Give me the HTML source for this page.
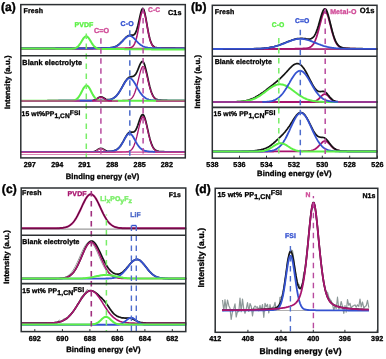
<!DOCTYPE html>
<html><head><meta charset="utf-8"><style>
html,body{margin:0;padding:0;background:#fff;}
body{width:386px;height:359px;overflow:hidden;}
svg{display:block;font-family:"Liberation Sans", sans-serif;will-change:transform;}
</style></head><body>
<svg width="386" height="359" viewBox="0 0 386 359">
<polyline points="20.8,48.7 21.8,48.7 22.8,48.7 23.8,48.7 24.8,48.7 25.8,48.7 26.8,48.7 27.8,48.7 28.8,48.7 29.8,48.7 30.8,48.7 31.8,48.7 32.8,48.7 33.8,48.7 34.8,48.7 35.8,48.7 36.8,48.7 37.8,48.7 38.8,48.7 39.8,48.7 40.8,48.7 41.8,48.7 42.8,48.7 43.8,48.7 44.8,48.7 45.8,48.7 46.8,48.7 47.8,48.7 48.8,48.7 49.8,48.7 50.8,48.7 51.8,48.7 52.8,48.7 53.8,48.7 54.8,48.7 55.8,48.7 56.8,48.7 57.8,48.7 58.8,48.7 59.8,48.7 60.8,48.7 61.8,48.7 62.8,48.7 63.8,48.7 64.8,48.7 65.8,48.7 66.8,48.7 67.8,48.7 68.8,48.7 69.8,48.7 70.8,48.7 71.8,48.7 72.8,48.7 73.8,48.7 74.8,48.7 75.8,48.7 76.8,48.7 77.8,48.7 78.8,48.7 79.8,48.7 80.8,48.7 81.8,48.7 82.8,48.7 83.8,48.7 84.8,48.7 85.8,48.7 86.8,48.7 87.8,48.7 88.8,48.7 89.8,48.7 90.8,48.7 91.8,48.7 92.8,48.7 93.8,48.7 94.8,48.7 95.8,48.7 96.8,48.7 97.8,48.7 98.8,48.7 99.8,48.7 100.8,48.7 101.8,48.7 102.8,48.7 103.8,48.7 104.8,48.7 105.8,48.7 106.8,48.7 107.8,48.7 108.8,48.7 109.8,48.7 110.8,48.7 111.8,48.7 112.8,48.7 113.8,48.7 114.8,48.7 115.8,48.7 116.8,48.7 117.8,48.7 118.8,48.7 119.8,48.7 120.8,48.7 121.8,48.7 122.8,48.7 123.8,48.7 124.8,48.7 125.8,48.7 126.8,48.7 127.8,48.7 128.8,48.7 129.8,48.7 130.8,48.7 131.8,48.7 132.8,48.7 133.8,48.7 134.8,48.7 135.8,48.7 136.8,48.7 137.8,48.7 138.8,48.7 139.8,48.7 140.8,48.7 141.8,48.7 142.8,48.7 143.8,48.7 144.8,48.7 145.8,48.7 146.8,48.7 147.8,48.7 148.8,48.7 149.8,48.7 150.8,48.7 151.8,48.7 152.8,48.7 153.8,48.7 154.8,48.7 155.8,48.7 156.8,48.7 157.8,48.7 158.8,48.7 159.8,48.7 160.8,48.7 161.8,48.7 162.8,48.7 163.8,48.7 164.8,48.7 165.8,48.7 166.8,48.7 167.8,48.7 168.8,48.7 169.8,48.7 170.8,48.7 171.8,48.7 172.8,48.7 173.8,48.7 174.8,48.7 175.8,48.7 176.8,48.7 177.8,48.7 178.8,48.7 179.8,48.7 180.8,48.7 181.8,48.7 182.8,48.7 183.8,48.7 184.8,48.7" fill="none" stroke="#a8146e" stroke-width="1.8" stroke-linejoin="round" />
<polyline points="20.8,48.4 21.8,48.4 22.8,48.4 23.8,48.4 24.8,48.4 25.8,48.4 26.8,48.4 27.8,48.4 28.8,48.4 29.8,48.4 30.8,48.4 31.8,48.4 32.8,48.4 33.8,48.4 34.8,48.4 35.8,48.4 36.8,48.4 37.8,48.4 38.8,48.4 39.8,48.4 40.8,48.4 41.8,48.4 42.8,48.4 43.8,48.4 44.8,48.4 45.8,48.4 46.8,48.4 47.8,48.4 48.8,48.4 49.8,48.4 50.8,48.4 51.8,48.4 52.8,48.4 53.8,48.4 54.8,48.4 55.8,48.4 56.8,48.4 57.8,48.4 58.8,48.4 59.8,48.4 60.8,48.4 61.8,48.4 62.8,48.4 63.8,48.3 64.8,48.3 65.8,48.3 66.8,48.3 67.8,48.3 68.8,48.3 69.8,48.3 70.8,48.3 71.8,48.3 72.8,48.3 73.8,48.3 74.8,48.3 75.8,48.3 76.8,48.3 77.8,48.3 78.8,48.3 79.8,48.3 80.8,48.3 81.8,48.3 82.8,48.3 83.8,48.3 84.8,48.3 85.8,48.3 86.8,48.3 87.8,48.3 88.8,48.3 89.8,48.3 90.8,48.3 91.8,48.3 92.8,48.3 93.8,48.2 94.8,48.2 95.8,48.2 96.8,48.2 97.8,48.2 98.8,48.2 99.8,48.2 100.8,48.2 101.8,48.2 102.8,48.1 103.8,48.1 104.8,48.1 105.8,48.1 106.8,48.0 107.8,48.0 108.8,47.9 109.8,47.8 110.8,47.7 111.8,47.6 112.8,47.4 113.8,47.1 114.8,46.8 115.8,46.4 116.8,45.9 117.8,45.2 118.8,44.5 119.8,43.7 120.8,42.7 121.8,41.7 122.8,40.6 123.8,39.5 124.8,38.5 125.8,37.5 126.8,36.6 127.8,35.9 128.8,35.5 129.8,35.2 130.8,35.2 131.8,35.2 132.8,35.2 133.8,34.9 134.8,34.0 135.8,32.3 136.8,29.6 137.8,26.0 138.8,21.6 139.8,16.9 140.8,12.6 141.8,9.6 142.8,8.4 143.8,9.6 144.8,13.0 145.8,17.9 146.8,23.6 147.8,29.3 148.8,34.4 149.8,38.7 150.8,41.9 151.8,44.2 152.8,45.7 153.8,46.6 154.8,47.2 155.8,47.5 156.8,47.7 157.8,47.8 158.8,47.9 159.8,48.0 160.8,48.0 161.8,48.0 162.8,48.1 163.8,48.1 164.8,48.1 165.8,48.1 166.8,48.1 167.8,48.2 168.8,48.2 169.8,48.2 170.8,48.2 171.8,48.2 172.8,48.2 173.8,48.2 174.8,48.2 175.8,48.3 176.8,48.3 177.8,48.3 178.8,48.3 179.8,48.3 180.8,48.3 181.8,48.3 182.8,48.3 183.8,48.3 184.8,48.3" fill="none" stroke="#141414" stroke-width="1.7" stroke-linejoin="round" />
<polyline points="20.8,48.4 21.8,48.4 22.8,48.4 23.8,48.4 24.8,48.4 25.8,48.4 26.8,48.4 27.8,48.4 28.8,48.4 29.8,48.4 30.8,48.4 31.8,48.4 32.8,48.4 33.8,48.4 34.8,48.4 35.8,48.4 36.8,48.4 37.8,48.4 38.8,48.4 39.8,48.4 40.8,48.4 41.8,48.4 42.8,48.4 43.8,48.4 44.8,48.4 45.8,48.4 46.8,48.4 47.8,48.4 48.8,48.4 49.8,48.4 50.8,48.4 51.8,48.4 52.8,48.4 53.8,48.4 54.8,48.4 55.8,48.4 56.8,48.4 57.8,48.4 58.8,48.4 59.8,48.4 60.8,48.4 61.8,48.4 62.8,48.4 63.8,48.4 64.8,48.4 65.8,48.4 66.8,48.4 67.8,48.4 68.8,48.4 69.8,48.4 70.8,48.4 71.8,48.4 72.8,48.4 73.8,48.4 74.8,48.4 75.8,48.4 76.8,48.4 77.8,48.4 78.8,48.4 79.8,48.4 80.8,48.4 81.8,48.4 82.8,48.4 83.8,48.4 84.8,48.4 85.8,48.4 86.8,48.4 87.8,48.4 88.8,48.4 89.8,48.4 90.8,48.4 91.8,48.4 92.8,48.4 93.8,48.4 94.8,48.4 95.8,48.4 96.8,48.4 97.8,48.4 98.8,48.4 99.8,48.4 100.8,48.4 101.8,48.4 102.8,48.3 103.8,48.3 104.8,48.3 105.8,48.3 106.8,48.3 107.8,48.3 108.8,48.3 109.8,48.3 110.8,48.3 111.8,48.3 112.8,48.3 113.8,48.3 114.8,48.3 115.8,48.3 116.8,48.3 117.8,48.3 118.8,48.3 119.8,48.3 120.8,48.2 121.8,48.2 122.8,48.2 123.8,48.2 124.8,48.2 125.8,48.1 126.8,48.1 127.8,48.0 128.8,48.0 129.8,47.8 130.8,47.6 131.8,47.2 132.8,46.4 133.8,45.2 134.8,43.3 135.8,40.5 136.8,36.8 137.8,32.1 138.8,26.7 139.8,21.1 140.8,16.1 141.8,12.3 142.8,10.6 143.8,11.4 144.8,14.4 145.8,19.0 146.8,24.4 147.8,30.0 148.8,35.0 149.8,39.2 150.8,42.3 151.8,44.5 152.8,46.0 153.8,46.9 154.8,47.4 155.8,47.7 156.8,47.9 157.8,48.0 158.8,48.1 159.8,48.1 160.8,48.2 161.8,48.2 162.8,48.2 163.8,48.2 164.8,48.2 165.8,48.2 166.8,48.3 167.8,48.3 168.8,48.3 169.8,48.3 170.8,48.3 171.8,48.3 172.8,48.3 173.8,48.3 174.8,48.3 175.8,48.3 176.8,48.3 177.8,48.3 178.8,48.3 179.8,48.3 180.8,48.3 181.8,48.3 182.8,48.3 183.8,48.4 184.8,48.4" fill="none" stroke="#a8146e" stroke-width="1.5" stroke-linejoin="round" />
<polyline points="20.8,48.4 21.8,48.4 22.8,48.4 23.8,48.4 24.8,48.4 25.8,48.4 26.8,48.4 27.8,48.4 28.8,48.4 29.8,48.4 30.8,48.4 31.8,48.4 32.8,48.4 33.8,48.4 34.8,48.4 35.8,48.4 36.8,48.4 37.8,48.4 38.8,48.4 39.8,48.4 40.8,48.4 41.8,48.4 42.8,48.4 43.8,48.4 44.8,48.4 45.8,48.4 46.8,48.4 47.8,48.4 48.8,48.4 49.8,48.4 50.8,48.4 51.8,48.4 52.8,48.4 53.8,48.4 54.8,48.4 55.8,48.4 56.8,48.4 57.8,48.4 58.8,48.4 59.8,48.4 60.8,48.4 61.8,48.4 62.8,48.4 63.8,48.4 64.8,48.4 65.8,48.4 66.8,48.4 67.8,48.4 68.8,48.4 69.8,48.4 70.8,48.4 71.8,48.4 72.8,48.4 73.8,48.3 74.8,48.3 75.8,48.3 76.8,48.3 77.8,48.3 78.8,48.3 79.8,48.3 80.8,48.3 81.8,48.3 82.8,48.3 83.8,48.3 84.8,48.3 85.8,48.3 86.8,48.3 87.8,48.3 88.8,48.3 89.8,48.3 90.8,48.3 91.8,48.3 92.8,48.3 93.8,48.3 94.8,48.3 95.8,48.3 96.8,48.3 97.8,48.2 98.8,48.2 99.8,48.2 100.8,48.2 101.8,48.2 102.8,48.2 103.8,48.2 104.8,48.1 105.8,48.1 106.8,48.1 107.8,48.0 108.8,48.0 109.8,47.9 110.8,47.8 111.8,47.6 112.8,47.5 113.8,47.2 114.8,46.9 115.8,46.5 116.8,46.0 117.8,45.4 118.8,44.7 119.8,43.8 120.8,42.9 121.8,41.9 122.8,40.8 123.8,39.7 124.8,38.7 125.8,37.7 126.8,36.9 127.8,36.3 128.8,35.9 129.8,35.8 130.8,36.0 131.8,36.5 132.8,37.2 133.8,38.1 134.8,39.1 135.8,40.2 136.8,41.3 137.8,42.3 138.8,43.3 139.8,44.2 140.8,45.0 141.8,45.6 142.8,46.2 143.8,46.7 144.8,47.0 145.8,47.3 146.8,47.5 147.8,47.7 148.8,47.8 149.8,47.9 150.8,48.0 151.8,48.1 152.8,48.1 153.8,48.1 154.8,48.2 155.8,48.2 156.8,48.2 157.8,48.2 158.8,48.2 159.8,48.2 160.8,48.2 161.8,48.3 162.8,48.3 163.8,48.3 164.8,48.3 165.8,48.3 166.8,48.3 167.8,48.3 168.8,48.3 169.8,48.3 170.8,48.3 171.8,48.3 172.8,48.3 173.8,48.3 174.8,48.3 175.8,48.3 176.8,48.3 177.8,48.3 178.8,48.3 179.8,48.3 180.8,48.3 181.8,48.3 182.8,48.3 183.8,48.3 184.8,48.3" fill="none" stroke="#3552d0" stroke-width="1.8" stroke-linejoin="round" />
<polyline points="20.8,48.4 21.8,48.4 22.8,48.4 23.8,48.4 24.8,48.4 25.8,48.4 26.8,48.4 27.8,48.5 28.8,48.5 29.8,48.5 30.8,48.5 31.8,48.5 32.8,48.5 33.8,48.5 34.8,48.5 35.8,48.5 36.8,48.5 37.8,48.5 38.8,48.5 39.8,48.5 40.8,48.5 41.8,48.6 42.8,48.6 43.8,48.6 44.8,48.6 45.8,48.6 46.8,48.6 47.8,48.6 48.8,48.6 49.8,48.6 50.8,48.6 51.8,48.6 52.8,48.6 53.8,48.6 54.8,48.6 55.8,48.7 56.8,48.7 57.8,48.7 58.8,48.7 59.8,48.7 60.8,48.7 61.8,48.7 62.8,48.7 63.8,48.7 64.8,48.7 65.8,48.7 66.8,48.7 67.8,48.7 68.8,48.7 69.8,48.7 70.8,48.7 71.8,48.7 72.8,48.6 73.8,48.5 74.8,48.3 75.8,47.9 76.8,47.4 77.8,46.6 78.8,45.6 79.8,44.2 80.8,42.7 81.8,41.0 82.8,39.4 83.8,37.9 84.8,36.9 85.8,36.3 86.8,36.4 87.8,37.1 88.8,38.2 89.8,39.8 90.8,41.4 91.8,43.1 92.8,44.6 93.8,45.9 94.8,46.9 95.8,47.7 96.8,48.2 97.8,48.5 98.8,48.7 99.8,48.8 100.8,48.9 101.8,49.0 102.8,49.0 103.8,49.0 104.8,49.0 105.8,49.0 106.8,49.0 107.8,49.0 108.8,49.0 109.8,49.0 110.8,49.1 111.8,49.1 112.8,49.1 113.8,49.1 114.8,49.1 115.8,49.1 116.8,49.1 117.8,49.1 118.8,49.1 119.8,49.1 120.8,49.1 121.8,49.1 122.8,49.1 123.8,49.1 124.8,49.2 125.8,49.2 126.8,49.2 127.8,49.2 128.8,49.2 129.8,49.2 130.8,49.2 131.8,49.2 132.8,49.2 133.8,49.2 134.8,49.2 135.8,49.2 136.8,49.2 137.8,49.3 138.8,49.3 139.8,49.3 140.8,49.3 141.8,49.3 142.8,49.3 143.8,49.3 144.8,49.3 145.8,49.3 146.8,49.3 147.8,49.3 148.8,49.3 149.8,49.3 150.8,49.3 151.8,49.4 152.8,49.4 153.8,49.4 154.8,49.4 155.8,49.4 156.8,49.4 157.8,49.4 158.8,49.4 159.8,49.4 160.8,49.4 161.8,49.4 162.8,49.4 163.8,49.4 164.8,49.4 165.8,49.5 166.8,49.5 167.8,49.5 168.8,49.5 169.8,49.5 170.8,49.5 171.8,49.5 172.8,49.5 173.8,49.5 174.8,49.5 175.8,49.5 176.8,49.5 177.8,49.5 178.8,49.5 179.8,49.6 180.8,49.6 181.8,49.6 182.8,49.6 183.8,49.6 184.8,49.6" fill="none" stroke="#5cf046" stroke-width="2.0" stroke-linejoin="round" />
<polyline points="20.8,100.8 21.8,100.8 22.8,100.8 23.8,100.8 24.8,100.8 25.8,100.8 26.8,100.8 27.8,100.8 28.8,100.8 29.8,100.8 30.8,100.8 31.8,100.8 32.8,100.8 33.8,100.8 34.8,100.8 35.8,100.8 36.8,100.8 37.8,100.8 38.8,100.8 39.8,100.8 40.8,100.8 41.8,100.8 42.8,100.8 43.8,100.8 44.8,100.8 45.8,100.8 46.8,100.8 47.8,100.7 48.8,100.7 49.8,100.7 50.8,100.7 51.8,100.7 52.8,100.7 53.8,100.7 54.8,100.7 55.8,100.7 56.8,100.7 57.8,100.7 58.8,100.7 59.8,100.7 60.8,100.7 61.8,100.7 62.8,100.7 63.8,100.7 64.8,100.7 65.8,100.7 66.8,100.7 67.8,100.7 68.8,100.7 69.8,100.7 70.8,100.7 71.8,100.7 72.8,100.7 73.8,100.7 74.8,100.7 75.8,100.7 76.8,100.7 77.8,100.7 78.8,100.7 79.8,100.7 80.8,100.7 81.8,100.7 82.8,100.7 83.8,100.7 84.8,100.6 85.8,100.6 86.8,100.6 87.8,100.6 88.8,100.6 89.8,100.6 90.8,100.6 91.8,100.5 92.8,100.4 93.8,100.2 94.8,99.9 95.8,99.5 96.8,98.9 97.8,98.2 98.8,97.5 99.8,97.0 100.8,96.8 101.8,97.0 102.8,97.4 103.8,98.0 104.8,98.6 105.8,99.2 106.8,99.5 107.8,99.7 108.8,99.7 109.8,99.5 110.8,99.3 111.8,99.0 112.8,98.5 113.8,97.9 114.8,97.2 115.8,96.3 116.8,95.3 117.8,94.1 118.8,92.7 119.8,91.1 120.8,89.4 121.8,87.7 122.8,85.8 123.8,84.0 124.8,82.3 125.8,80.7 126.8,79.4 127.8,78.3 128.8,77.5 129.8,77.0 130.8,76.8 131.8,76.6 132.8,76.4 133.8,76.0 134.8,75.3 135.8,74.0 136.8,72.2 137.8,69.9 138.8,67.4 139.8,64.9 140.8,62.9 141.8,61.6 142.8,61.5 143.8,62.8 144.8,65.4 145.8,69.1 146.8,73.4 147.8,78.0 148.8,82.6 149.8,86.7 150.8,90.2 151.8,93.1 152.8,95.4 153.8,97.0 154.8,98.1 155.8,98.9 156.8,99.4 157.8,99.8 158.8,100.0 159.8,100.1 160.8,100.2 161.8,100.3 162.8,100.3 163.8,100.4 164.8,100.4 165.8,100.4 166.8,100.4 167.8,100.5 168.8,100.5 169.8,100.5 170.8,100.5 171.8,100.5 172.8,100.5 173.8,100.6 174.8,100.6 175.8,100.6 176.8,100.6 177.8,100.6 178.8,100.6 179.8,100.6 180.8,100.6 181.8,100.6 182.8,100.6 183.8,100.6 184.8,100.7" fill="none" stroke="#141414" stroke-width="1.7" stroke-linejoin="round" />
<polyline points="20.8,100.8 21.8,100.8 22.8,100.8 23.8,100.8 24.8,100.8 25.8,100.8 26.8,100.8 27.8,100.8 28.8,100.8 29.8,100.8 30.8,100.8 31.8,100.8 32.8,100.8 33.8,100.8 34.8,100.8 35.8,100.8 36.8,100.8 37.8,100.8 38.8,100.8 39.8,100.8 40.8,100.8 41.8,100.8 42.8,100.8 43.8,100.8 44.8,100.8 45.8,100.8 46.8,100.8 47.8,100.8 48.8,100.8 49.8,100.8 50.8,100.8 51.8,100.8 52.8,100.8 53.8,100.8 54.8,100.8 55.8,100.8 56.8,100.8 57.8,100.8 58.8,100.8 59.8,100.8 60.8,100.8 61.8,100.8 62.8,100.8 63.8,100.8 64.8,100.8 65.8,100.8 66.8,100.8 67.8,100.8 68.8,100.8 69.8,100.8 70.8,100.8 71.8,100.8 72.8,100.8 73.8,100.8 74.8,100.8 75.8,100.8 76.8,100.8 77.8,100.8 78.8,100.8 79.8,100.8 80.8,100.8 81.8,100.8 82.8,100.8 83.8,100.8 84.8,100.8 85.8,100.8 86.8,100.8 87.8,100.8 88.8,100.8 89.8,100.8 90.8,100.8 91.8,100.8 92.8,100.8 93.8,100.8 94.8,100.8 95.8,100.8 96.8,100.7 97.8,100.7 98.8,100.7 99.8,100.7 100.8,100.7 101.8,100.7 102.8,100.7 103.8,100.7 104.8,100.7 105.8,100.7 106.8,100.7 107.8,100.7 108.8,100.7 109.8,100.7 110.8,100.7 111.8,100.7 112.8,100.7 113.8,100.7 114.8,100.7 115.8,100.7 116.8,100.6 117.8,100.6 118.8,100.6 119.8,100.6 120.8,100.6 121.8,100.6 122.8,100.5 123.8,100.5 124.8,100.5 125.8,100.4 126.8,100.3 127.8,100.2 128.8,100.0 129.8,99.6 130.8,99.0 131.8,98.2 132.8,96.9 133.8,95.1 134.8,92.8 135.8,89.8 136.8,86.2 137.8,82.1 138.8,77.9 139.8,73.8 140.8,70.2 141.8,67.7 142.8,66.5 143.8,66.8 144.8,68.6 145.8,71.6 146.8,75.4 147.8,79.6 148.8,83.8 149.8,87.7 150.8,91.0 151.8,93.8 152.8,95.9 153.8,97.5 154.8,98.6 155.8,99.3 156.8,99.8 157.8,100.1 158.8,100.3 159.8,100.4 160.8,100.4 161.8,100.5 162.8,100.5 163.8,100.6 164.8,100.6 165.8,100.6 166.8,100.6 167.8,100.6 168.8,100.6 169.8,100.7 170.8,100.7 171.8,100.7 172.8,100.7 173.8,100.7 174.8,100.7 175.8,100.7 176.8,100.7 177.8,100.7 178.8,100.7 179.8,100.7 180.8,100.7 181.8,100.7 182.8,100.7 183.8,100.7 184.8,100.7" fill="none" stroke="#a8146e" stroke-width="1.3" stroke-linejoin="round" />
<polyline points="20.8,100.8 21.8,100.8 22.8,100.8 23.8,100.8 24.8,100.8 25.8,100.8 26.8,100.8 27.8,100.8 28.8,100.8 29.8,100.8 30.8,100.8 31.8,100.8 32.8,100.8 33.8,100.8 34.8,100.8 35.8,100.8 36.8,100.8 37.8,100.8 38.8,100.8 39.8,100.8 40.8,100.8 41.8,100.8 42.8,100.8 43.8,100.8 44.8,100.8 45.8,100.8 46.8,100.8 47.8,100.8 48.8,100.8 49.8,100.8 50.8,100.8 51.8,100.8 52.8,100.8 53.8,100.8 54.8,100.8 55.8,100.8 56.8,100.8 57.8,100.8 58.8,100.7 59.8,100.7 60.8,100.7 61.8,100.7 62.8,100.7 63.8,100.7 64.8,100.7 65.8,100.7 66.8,100.7 67.8,100.7 68.8,100.7 69.8,100.7 70.8,100.7 71.8,100.7 72.8,100.7 73.8,100.7 74.8,100.7 75.8,100.7 76.8,100.7 77.8,100.7 78.8,100.7 79.8,100.7 80.8,100.7 81.8,100.7 82.8,100.7 83.8,100.7 84.8,100.7 85.8,100.7 86.8,100.7 87.8,100.7 88.8,100.7 89.8,100.6 90.8,100.6 91.8,100.6 92.8,100.6 93.8,100.6 94.8,100.6 95.8,100.6 96.8,100.6 97.8,100.6 98.8,100.5 99.8,100.5 100.8,100.5 101.8,100.5 102.8,100.4 103.8,100.4 104.8,100.4 105.8,100.3 106.8,100.2 107.8,100.1 108.8,99.9 109.8,99.7 110.8,99.4 111.8,99.1 112.8,98.6 113.8,98.0 114.8,97.3 115.8,96.5 116.8,95.4 117.8,94.2 118.8,92.8 119.8,91.3 120.8,89.6 121.8,87.9 122.8,86.1 123.8,84.3 124.8,82.6 125.8,81.1 126.8,79.8 127.8,78.9 128.8,78.3 129.8,78.2 130.8,78.5 131.8,79.2 132.8,80.3 133.8,81.7 134.8,83.3 135.8,85.0 136.8,86.8 137.8,88.6 138.8,90.3 139.8,91.9 140.8,93.4 141.8,94.7 142.8,95.9 143.8,96.8 144.8,97.6 145.8,98.3 146.8,98.8 147.8,99.2 148.8,99.6 149.8,99.8 150.8,100.0 151.8,100.1 152.8,100.2 153.8,100.3 154.8,100.4 155.8,100.4 156.8,100.5 157.8,100.5 158.8,100.5 159.8,100.5 160.8,100.6 161.8,100.6 162.8,100.6 163.8,100.6 164.8,100.6 165.8,100.6 166.8,100.6 167.8,100.6 168.8,100.6 169.8,100.6 170.8,100.7 171.8,100.7 172.8,100.7 173.8,100.7 174.8,100.7 175.8,100.7 176.8,100.7 177.8,100.7 178.8,100.7 179.8,100.7 180.8,100.7 181.8,100.7 182.8,100.7 183.8,100.7 184.8,100.7" fill="none" stroke="#3552d0" stroke-width="1.8" stroke-linejoin="round" />
<polyline points="20.8,100.8 21.8,100.8 22.8,100.8 23.8,100.8 24.8,100.8 25.8,100.8 26.8,100.8 27.8,100.8 28.8,100.8 29.8,100.8 30.8,100.8 31.8,100.8 32.8,100.8 33.8,100.8 34.8,100.8 35.8,100.8 36.8,100.8 37.8,100.8 38.8,100.8 39.8,100.8 40.8,100.8 41.8,100.8 42.8,100.8 43.8,100.8 44.8,100.8 45.8,100.8 46.8,100.8 47.8,100.8 48.8,100.8 49.8,100.8 50.8,100.8 51.8,100.8 52.8,100.8 53.8,100.8 54.8,100.8 55.8,100.8 56.8,100.8 57.8,100.8 58.8,100.8 59.8,100.8 60.8,100.8 61.8,100.8 62.8,100.8 63.8,100.8 64.8,100.8 65.8,100.8 66.8,100.8 67.8,100.8 68.8,100.8 69.8,100.8 70.8,100.7 71.8,100.7 72.8,100.6 73.8,100.4 74.8,100.1 75.8,99.7 76.8,99.0 77.8,98.0 78.8,96.8 79.8,95.3 80.8,93.5 81.8,91.5 82.8,89.6 83.8,87.8 84.8,86.5 85.8,85.7 86.8,85.5 87.8,86.1 88.8,87.2 89.8,88.8 90.8,90.7 91.8,92.7 92.8,94.6 93.8,96.2 94.8,97.6 95.8,98.6 96.8,99.4 97.8,99.9 98.8,100.3 99.8,100.5 100.8,100.7 101.8,100.7 102.8,100.8 103.8,100.8 104.8,100.8 105.8,100.8 106.8,100.8 107.8,100.8 108.8,100.8 109.8,100.8 110.8,100.8 111.8,100.8 112.8,100.8 113.8,100.8 114.8,100.8 115.8,100.8 116.8,100.8 117.8,100.8 118.8,100.8 119.8,100.8 120.8,100.8 121.8,100.8 122.8,100.8 123.8,100.8 124.8,100.8 125.8,100.8 126.8,100.8 127.8,100.8 128.8,100.8 129.8,100.8 130.8,100.8 131.8,100.8 132.8,100.8 133.8,100.8 134.8,100.8 135.8,100.8 136.8,100.8 137.8,100.8 138.8,100.8 139.8,100.8 140.8,100.8 141.8,100.8 142.8,100.8 143.8,100.8 144.8,100.8 145.8,100.8 146.8,100.8 147.8,100.8 148.8,100.8 149.8,100.8 150.8,100.8 151.8,100.8 152.8,100.8 153.8,100.8 154.8,100.8 155.8,100.8 156.8,100.8 157.8,100.8 158.8,100.8 159.8,100.8 160.8,100.8 161.8,100.8 162.8,100.8 163.8,100.8 164.8,100.8 165.8,100.8 166.8,100.8 167.8,100.8 168.8,100.8 169.8,100.8 170.8,100.8 171.8,100.8 172.8,100.8 173.8,100.8 174.8,100.8 175.8,100.8 176.8,100.8 177.8,100.8 178.8,100.8 179.8,100.8 180.8,100.8 181.8,100.8 182.8,100.8 183.8,100.8 184.8,100.8" fill="none" stroke="#5cf046" stroke-width="2.0" stroke-linejoin="round" />
<polyline points="20.8,101.1 21.8,101.1 22.8,101.1 23.8,101.1 24.8,101.1 25.8,101.1 26.8,101.1 27.8,101.1 28.8,101.1 29.8,101.1 30.8,101.1 31.8,101.1 32.8,101.1 33.8,101.1 34.8,101.1 35.8,101.1 36.8,101.1 37.8,101.1 38.8,101.1 39.8,101.1 40.8,101.1 41.8,101.1 42.8,101.1 43.8,101.1 44.8,101.1 45.8,101.1 46.8,101.1 47.8,101.1 48.8,101.1 49.8,101.1 50.8,101.1 51.8,101.1 52.8,101.1 53.8,101.1 54.8,101.1 55.8,101.1 56.8,101.1 57.8,101.1 58.8,101.1 59.8,101.1 60.8,101.1 61.8,101.1 62.8,101.1 63.8,101.1 64.8,101.1 65.8,101.1 66.8,101.1 67.8,101.1 68.8,101.1 69.8,101.1 70.8,101.1 71.8,101.1 72.8,101.1 73.8,101.1 74.8,101.1 75.8,101.1 76.8,101.1 77.8,101.1 78.8,101.1 79.8,101.1" fill="none" stroke="#c03a88" stroke-width="1.5" stroke-linejoin="round" />
<polyline points="93.0,101.1 94.0,101.1 95.0,101.1 96.0,101.1 97.0,101.1 98.0,101.1 99.0,101.1 100.0,101.1 101.0,101.1 102.0,101.1 103.0,101.1 104.0,101.1 105.0,101.1 106.0,101.1 107.0,101.1 108.0,101.1 109.0,101.1 110.0,101.1 111.0,101.1 112.0,101.1 113.0,101.1 114.0,101.1 115.0,101.1 116.0,101.1 117.0,101.1 118.0,101.1" fill="none" stroke="#c03a88" stroke-width="1.5" stroke-linejoin="round" />
<polyline points="156.0,101.1 157.0,101.1 158.0,101.1 159.0,101.1 160.0,101.1 161.0,101.1 162.0,101.1 163.0,101.1 164.0,101.1 165.0,101.1 166.0,101.1 167.0,101.1 168.0,101.1 169.0,101.1 170.0,101.1 171.0,101.1 172.0,101.1 173.0,101.1 174.0,101.1 175.0,101.1 176.0,101.1 177.0,101.1 178.0,101.1 179.0,101.1 180.0,101.1 181.0,101.1 182.0,101.1 183.0,101.1 184.0,101.1 185.0,101.1" fill="none" stroke="#c03a88" stroke-width="1.5" stroke-linejoin="round" />
<polyline points="92.0,100.7 93.0,100.6 94.0,100.4 95.0,100.1 96.0,99.6 97.0,99.0 98.0,98.3 99.0,97.7 100.0,97.3 101.0,97.2 102.0,97.4 103.0,98.0 104.0,98.6 105.0,99.3 106.0,99.8 107.0,100.2 108.0,100.5 109.0,100.7 110.0,100.7 111.0,100.8 112.0,100.8" fill="none" stroke="#a8146e" stroke-width="1.4" stroke-linejoin="round" />
<polyline points="20.8,154.5 21.8,154.5 22.8,154.5 23.8,154.5 24.8,154.5 25.8,154.5 26.8,154.5 27.8,154.5 28.8,154.5 29.8,154.5 30.8,154.5 31.8,154.5 32.8,154.5 33.8,154.5 34.8,154.5 35.8,154.5 36.8,154.5 37.8,154.5 38.8,154.5 39.8,154.5 40.8,154.5 41.8,154.5 42.8,154.5 43.8,154.5 44.8,154.5 45.8,154.5 46.8,154.5 47.8,154.5 48.8,154.5 49.8,154.5 50.8,154.5 51.8,154.5 52.8,154.5 53.8,154.5 54.8,154.5 55.8,154.5 56.8,154.5 57.8,154.5 58.8,154.5 59.8,154.5 60.8,154.5 61.8,154.5 62.8,154.5 63.8,154.5 64.8,154.5 65.8,154.5 66.8,154.5 67.8,154.5 68.8,154.5 69.8,154.5 70.8,154.5 71.8,154.5 72.8,154.5 73.8,154.5 74.8,154.5 75.8,154.5 76.8,154.5 77.8,154.5 78.8,154.5 79.8,154.5 80.8,154.5 81.8,154.5 82.8,154.5 83.8,154.5 84.8,154.5 85.8,154.5 86.8,154.5 87.8,154.5 88.8,154.5 89.8,154.5 90.8,154.5 91.8,154.5 92.8,154.5 93.8,154.5 94.8,154.5 95.8,154.5 96.8,154.5 97.8,154.5 98.8,154.5 99.8,154.5 100.8,154.5 101.8,154.5 102.8,154.5 103.8,154.5 104.8,154.5 105.8,154.5 106.8,154.5 107.8,154.5 108.8,154.5 109.8,154.5 110.8,154.5 111.8,154.5 112.8,154.5 113.8,154.5 114.8,154.5 115.8,154.5 116.8,154.5 117.8,154.5 118.8,154.5 119.8,154.5 120.8,154.5 121.8,154.5 122.8,154.5 123.8,154.5 124.8,154.5 125.8,154.5 126.8,154.5 127.8,154.5 128.8,154.5 129.8,154.5 130.8,154.5 131.8,154.5 132.8,154.5 133.8,154.5 134.8,154.5 135.8,154.5 136.8,154.5 137.8,154.5 138.8,154.5 139.8,154.5 140.8,154.5 141.8,154.5 142.8,154.5 143.8,154.5 144.8,154.5 145.8,154.5 146.8,154.5 147.8,154.5 148.8,154.5 149.8,154.5 150.8,154.5 151.8,154.5 152.8,154.5 153.8,154.5 154.8,154.5 155.8,154.5 156.8,154.5 157.8,154.5 158.8,154.5 159.8,154.5 160.8,154.5 161.8,154.5 162.8,154.5 163.8,154.5 164.8,154.5 165.8,154.5 166.8,154.5 167.8,154.5 168.8,154.5 169.8,154.5 170.8,154.5 171.8,154.5 172.8,154.5 173.8,154.5 174.8,154.5 175.8,154.5 176.8,154.5 177.8,154.5 178.8,154.5 179.8,154.5 180.8,154.5 181.8,154.5 182.8,154.5 183.8,154.5 184.8,154.5" fill="none" stroke="#d070a8" stroke-width="1.0" stroke-linejoin="round" />
<polyline points="20.8,152.2 21.8,152.2 22.8,152.2 23.8,152.2 24.8,152.2 25.8,152.2 26.8,152.2 27.8,152.2 28.8,152.2 29.8,152.2 30.8,152.2 31.8,152.2 32.8,152.2 33.8,152.2 34.8,152.2 35.8,152.2 36.8,152.2 37.8,152.2 38.8,152.2 39.8,152.2 40.8,152.2 41.8,152.2 42.8,152.2 43.8,152.2 44.8,152.2 45.8,152.1 46.8,152.1 47.8,152.1 48.8,152.1 49.8,152.1 50.8,152.1 51.8,152.1 52.8,152.1 53.8,152.1 54.8,152.1 55.8,152.1 56.8,152.1 57.8,152.1 58.8,152.1 59.8,152.1 60.8,152.1 61.8,152.1 62.8,152.1 63.8,152.1 64.8,152.1 65.8,152.1 66.8,152.1 67.8,152.1 68.8,152.1 69.8,152.1 70.8,152.1 71.8,152.1 72.8,152.1 73.8,152.1 74.8,152.1 75.8,152.1 76.8,152.1 77.8,152.1 78.8,152.1 79.8,152.1 80.8,152.1 81.8,152.1 82.8,152.0 83.8,152.0 84.8,152.0 85.8,152.0 86.8,152.0 87.8,152.0 88.8,152.0 89.8,152.0 90.8,152.0 91.8,151.9 92.8,151.8 93.8,151.6 94.8,151.3 95.8,150.9 96.8,150.3 97.8,149.6 98.8,149.0 99.8,148.5 100.8,148.3 101.8,148.5 102.8,148.9 103.8,149.5 104.8,150.1 105.8,150.6 106.8,151.0 107.8,151.3 108.8,151.4 109.8,151.4 110.8,151.3 111.8,151.2 112.8,151.0 113.8,150.8 114.8,150.4 115.8,150.0 116.8,149.4 117.8,148.7 118.8,147.8 119.8,146.7 120.8,145.4 121.8,143.8 122.8,142.1 123.8,140.3 124.8,138.4 125.8,136.6 126.8,135.0 127.8,133.6 128.8,132.7 129.8,132.1 130.8,132.0 131.8,132.1 132.8,132.2 133.8,132.0 134.8,131.3 135.8,129.9 136.8,127.9 137.8,125.3 138.8,122.3 139.8,119.3 140.8,116.7 141.8,115.0 142.8,114.5 143.8,115.4 144.8,117.8 145.8,121.2 146.8,125.4 147.8,129.9 148.8,134.4 149.8,138.4 150.8,141.9 151.8,144.7 152.8,146.9 153.8,148.5 154.8,149.6 155.8,150.3 156.8,150.8 157.8,151.2 158.8,151.4 159.8,151.5 160.8,151.6 161.8,151.6 162.8,151.7 163.8,151.7 164.8,151.8 165.8,151.8 166.8,151.8 167.8,151.8 168.8,151.9 169.8,151.9 170.8,151.9 171.8,151.9 172.8,151.9 173.8,151.9 174.8,152.0 175.8,152.0 176.8,152.0 177.8,152.0 178.8,152.0 179.8,152.0 180.8,152.0 181.8,152.0 182.8,152.0 183.8,152.0 184.8,152.0" fill="none" stroke="#141414" stroke-width="1.7" stroke-linejoin="round" />
<polyline points="20.8,152.2 21.8,152.2 22.8,152.2 23.8,152.2 24.8,152.2 25.8,152.2 26.8,152.2 27.8,152.2 28.8,152.2 29.8,152.2 30.8,152.2 31.8,152.2 32.8,152.2 33.8,152.2 34.8,152.2 35.8,152.2 36.8,152.2 37.8,152.2 38.8,152.2 39.8,152.2 40.8,152.2 41.8,152.2 42.8,152.2 43.8,152.2 44.8,152.2 45.8,152.2 46.8,152.2 47.8,152.2 48.8,152.2 49.8,152.2 50.8,152.2 51.8,152.2 52.8,152.2 53.8,152.2 54.8,152.2 55.8,152.2 56.8,152.2 57.8,152.2 58.8,152.2 59.8,152.2 60.8,152.2 61.8,152.2 62.8,152.2 63.8,152.2 64.8,152.2 65.8,152.2 66.8,152.2 67.8,152.2 68.8,152.2 69.8,152.2 70.8,152.2 71.8,152.2 72.8,152.2 73.8,152.2 74.8,152.2 75.8,152.2 76.8,152.2 77.8,152.2 78.8,152.2 79.8,152.2 80.8,152.2 81.8,152.2 82.8,152.2 83.8,152.2 84.8,152.2 85.8,152.2 86.8,152.2 87.8,152.2 88.8,152.2 89.8,152.2 90.8,152.2 91.8,152.2 92.8,152.2 93.8,152.2 94.8,152.2 95.8,152.1 96.8,152.1 97.8,152.1 98.8,152.1 99.8,152.1 100.8,152.1 101.8,152.1 102.8,152.1 103.8,152.1 104.8,152.1 105.8,152.1 106.8,152.1 107.8,152.1 108.8,152.1 109.8,152.1 110.8,152.1 111.8,152.1 112.8,152.1 113.8,152.1 114.8,152.1 115.8,152.1 116.8,152.0 117.8,152.0 118.8,152.0 119.8,152.0 120.8,152.0 121.8,152.0 122.8,151.9 123.8,151.9 124.8,151.9 125.8,151.8 126.8,151.7 127.8,151.6 128.8,151.3 129.8,150.9 130.8,150.3 131.8,149.4 132.8,148.0 133.8,146.1 134.8,143.6 135.8,140.5 136.8,136.7 137.8,132.5 138.8,128.1 139.8,123.9 140.8,120.4 141.8,117.8 142.8,116.7 143.8,117.2 144.8,119.2 145.8,122.4 146.8,126.4 147.8,130.8 148.8,135.1 149.8,139.0 150.8,142.4 151.8,145.2 152.8,147.3 153.8,148.9 154.8,150.0 155.8,150.7 156.8,151.2 157.8,151.5 158.8,151.7 159.8,151.8 160.8,151.8 161.8,151.9 162.8,151.9 163.8,152.0 164.8,152.0 165.8,152.0 166.8,152.0 167.8,152.0 168.8,152.0 169.8,152.0 170.8,152.1 171.8,152.1 172.8,152.1 173.8,152.1 174.8,152.1 175.8,152.1 176.8,152.1 177.8,152.1 178.8,152.1 179.8,152.1 180.8,152.1 181.8,152.1 182.8,152.1 183.8,152.1 184.8,152.1" fill="none" stroke="#a8146e" stroke-width="1.3" stroke-linejoin="round" />
<polyline points="20.8,152.2 21.8,152.2 22.8,152.2 23.8,152.2 24.8,152.2 25.8,152.2 26.8,152.2 27.8,152.2 28.8,152.2 29.8,152.2 30.8,152.2 31.8,152.2 32.8,152.2 33.8,152.2 34.8,152.2 35.8,152.2 36.8,152.2 37.8,152.2 38.8,152.2 39.8,152.2 40.8,152.2 41.8,152.2 42.8,152.2 43.8,152.2 44.8,152.2 45.8,152.2 46.8,152.2 47.8,152.2 48.8,152.2 49.8,152.2 50.8,152.2 51.8,152.2 52.8,152.2 53.8,152.2 54.8,152.2 55.8,152.2 56.8,152.2 57.8,152.2 58.8,152.2 59.8,152.2 60.8,152.2 61.8,152.2 62.8,152.2 63.8,152.2 64.8,152.2 65.8,152.2 66.8,152.2 67.8,152.2 68.8,152.2 69.8,152.2 70.8,152.2 71.8,152.2 72.8,152.2 73.8,152.2 74.8,152.2 75.8,152.2 76.8,152.2 77.8,152.2 78.8,152.2 79.8,152.2 80.8,152.2 81.8,152.2 82.8,152.2 83.8,152.2 84.8,152.2 85.8,152.2 86.8,152.2 87.8,152.2 88.8,152.2 89.8,152.2 90.8,152.2 91.8,152.1 92.8,152.0 93.8,151.9 94.8,151.6 95.8,151.2 96.8,150.6 97.8,149.9 98.8,149.3 99.8,148.9 100.8,148.7 101.8,148.9 102.8,149.3 103.8,149.9 104.8,150.6 105.8,151.2 106.8,151.6 107.8,151.9 108.8,152.0 109.8,152.1 110.8,152.2 111.8,152.2 112.8,152.2 113.8,152.2 114.8,152.2 115.8,152.2 116.8,152.2 117.8,152.2 118.8,152.2 119.8,152.2 120.8,152.2 121.8,152.2 122.8,152.2 123.8,152.2 124.8,152.2 125.8,152.2 126.8,152.2 127.8,152.2 128.8,152.2 129.8,152.2 130.8,152.2 131.8,152.2 132.8,152.2 133.8,152.2 134.8,152.2 135.8,152.2 136.8,152.2 137.8,152.2 138.8,152.2 139.8,152.2 140.8,152.2 141.8,152.2 142.8,152.2 143.8,152.2 144.8,152.2 145.8,152.2 146.8,152.2 147.8,152.2 148.8,152.2 149.8,152.2 150.8,152.2 151.8,152.2 152.8,152.2 153.8,152.2 154.8,152.2 155.8,152.2 156.8,152.2 157.8,152.2 158.8,152.2 159.8,152.2 160.8,152.2 161.8,152.2 162.8,152.2 163.8,152.2 164.8,152.2 165.8,152.2 166.8,152.2 167.8,152.2 168.8,152.2 169.8,152.2 170.8,152.2 171.8,152.2 172.8,152.2 173.8,152.2 174.8,152.2 175.8,152.2 176.8,152.2 177.8,152.2 178.8,152.2 179.8,152.2 180.8,152.2 181.8,152.2 182.8,152.2 183.8,152.2 184.8,152.2" fill="none" stroke="#d04c98" stroke-width="1.2" stroke-linejoin="round" />
<polyline points="20.8,152.2 21.8,152.2 22.8,152.2 23.8,152.2 24.8,152.2 25.8,152.2 26.8,152.2 27.8,152.2 28.8,152.2 29.8,152.2 30.8,152.2 31.8,152.2 32.8,152.2 33.8,152.2 34.8,152.2 35.8,152.2 36.8,152.2 37.8,152.2 38.8,152.2 39.8,152.2 40.8,152.2 41.8,152.2 42.8,152.2 43.8,152.2 44.8,152.2 45.8,152.2 46.8,152.2 47.8,152.2 48.8,152.2 49.8,152.2 50.8,152.2 51.8,152.2 52.8,152.2 53.8,152.2 54.8,152.2 55.8,152.2 56.8,152.1 57.8,152.1 58.8,152.1 59.8,152.1 60.8,152.1 61.8,152.1 62.8,152.1 63.8,152.1 64.8,152.1 65.8,152.1 66.8,152.1 67.8,152.1 68.8,152.1 69.8,152.1 70.8,152.1 71.8,152.1 72.8,152.1 73.8,152.1 74.8,152.1 75.8,152.1 76.8,152.1 77.8,152.1 78.8,152.1 79.8,152.1 80.8,152.1 81.8,152.1 82.8,152.1 83.8,152.1 84.8,152.1 85.8,152.1 86.8,152.1 87.8,152.0 88.8,152.0 89.8,152.0 90.8,152.0 91.8,152.0 92.8,152.0 93.8,152.0 94.8,152.0 95.8,152.0 96.8,152.0 97.8,151.9 98.8,151.9 99.8,151.9 100.8,151.9 101.8,151.9 102.8,151.8 103.8,151.8 104.8,151.8 105.8,151.7 106.8,151.7 107.8,151.7 108.8,151.6 109.8,151.5 110.8,151.4 111.8,151.3 112.8,151.1 113.8,150.9 114.8,150.6 115.8,150.2 116.8,149.6 117.8,148.9 118.8,148.0 119.8,146.9 120.8,145.6 121.8,144.1 122.8,142.4 123.8,140.6 124.8,138.7 125.8,137.0 126.8,135.4 127.8,134.3 128.8,133.5 129.8,133.4 130.8,133.9 131.8,134.9 132.8,136.3 133.8,138.0 134.8,139.8 135.8,141.7 136.8,143.4 137.8,145.0 138.8,146.4 139.8,147.6 140.8,148.6 141.8,149.3 142.8,150.0 143.8,150.4 144.8,150.8 145.8,151.0 146.8,151.2 147.8,151.4 148.8,151.5 149.8,151.6 150.8,151.6 151.8,151.7 152.8,151.7 153.8,151.8 154.8,151.8 155.8,151.8 156.8,151.9 157.8,151.9 158.8,151.9 159.8,151.9 160.8,151.9 161.8,152.0 162.8,152.0 163.8,152.0 164.8,152.0 165.8,152.0 166.8,152.0 167.8,152.0 168.8,152.0 169.8,152.0 170.8,152.0 171.8,152.1 172.8,152.1 173.8,152.1 174.8,152.1 175.8,152.1 176.8,152.1 177.8,152.1 178.8,152.1 179.8,152.1 180.8,152.1 181.8,152.1 182.8,152.1 183.8,152.1 184.8,152.1" fill="none" stroke="#3552d0" stroke-width="1.8" stroke-linejoin="round" />
<polyline points="20.8,152.2 21.8,152.2 22.8,152.2 23.8,152.2 24.8,152.2 25.8,152.2 26.8,152.2 27.8,152.2 28.8,152.2 29.8,152.2 30.8,152.2 31.8,152.2 32.8,152.2 33.8,152.2 34.8,152.2 35.8,152.2 36.8,152.2 37.8,152.2 38.8,152.2 39.8,152.2 40.8,152.2 41.8,152.2 42.8,152.2 43.8,152.2 44.8,152.2 45.8,152.2 46.8,152.2 47.8,152.2 48.8,152.2 49.8,152.2 50.8,152.2 51.8,152.2 52.8,152.2 53.8,152.2 54.8,152.2 55.8,152.2 56.8,152.2 57.8,152.2 58.8,152.2 59.8,152.2 60.8,152.2 61.8,152.2 62.8,152.2 63.8,152.2 64.8,152.2 65.8,152.2 66.8,152.2 67.8,152.2 68.8,152.2 69.8,152.2 70.8,152.2 71.8,152.2 72.8,152.2 73.8,152.2 74.8,152.2 75.8,152.2 76.8,152.2 77.8,152.2 78.8,152.2 79.8,152.2 80.8,152.2 81.8,152.2 82.8,152.2 83.8,152.2 84.8,152.2 85.8,152.2 86.8,152.2 87.8,152.2 88.8,152.2 89.8,152.2 90.8,152.2 91.8,152.2 92.8,152.2 93.8,152.2 94.8,152.2 95.8,152.2 96.8,152.2 97.8,152.2 98.8,152.2 99.8,152.2 100.8,152.2 101.8,152.2 102.8,152.2 103.8,152.2 104.8,152.2 105.8,152.2 106.8,152.2 107.8,152.2 108.8,152.2 109.8,152.2 110.8,152.2 111.8,152.2 112.8,152.2 113.8,152.2 114.8,152.2 115.8,152.2" fill="none" stroke="#c03a88" stroke-width="1.6" stroke-linejoin="round" />
<polyline points="155.0,152.2 156.0,152.2 157.0,152.2 158.0,152.2 159.0,152.2 160.0,152.2 161.0,152.2 162.0,152.2 163.0,152.2 164.0,152.2 165.0,152.2 166.0,152.2 167.0,152.2 168.0,152.2 169.0,152.2 170.0,152.2 171.0,152.2 172.0,152.2 173.0,152.2 174.0,152.2 175.0,152.2 176.0,152.2 177.0,152.2 178.0,152.2 179.0,152.2 180.0,152.2 181.0,152.2 182.0,152.2 183.0,152.2 184.0,152.2 185.0,152.2" fill="none" stroke="#c03a88" stroke-width="1.6" stroke-linejoin="round" />
<line x1="86.3" y1="33" x2="86.3" y2="157.9" stroke="#78ee68" stroke-width="1.5" stroke-dasharray="5.5 4.5" stroke-dashoffset="9.50"/>
<line x1="100.9" y1="36.5" x2="100.9" y2="157.9" stroke="#b84a9e" stroke-width="1.5" stroke-dasharray="5.5 4.5" stroke-dashoffset="8.20"/>
<line x1="129.8" y1="29" x2="129.8" y2="157.9" stroke="#4f6ecc" stroke-width="1.5" stroke-dasharray="5.5 4.5" stroke-dashoffset="8.80"/>
<line x1="143.1" y1="7" x2="143.1" y2="157.9" stroke="#b84a9e" stroke-width="1.5" stroke-dasharray="5.5 4.5" stroke-dashoffset="8.90"/>
<rect x="20.8" y="4.6" width="164.5" height="153.3" fill="none" stroke="#2c3033" stroke-width="1.5"/>
<line x1="20.8" y1="55.7" x2="185.3" y2="55.7" stroke="#2c3033" stroke-width="1.6"/>
<line x1="20.8" y1="107.0" x2="185.3" y2="107.0" stroke="#2c3033" stroke-width="1.6"/>
<text x="1.0" y="11.2" font-size="12.0" fill="#000" stroke="#000" stroke-width="0.4" letter-spacing="0.1" text-anchor="start" font-weight="bold" text-rendering="geometricPrecision" >(a)</text>
<text x="23.5" y="13.0" font-size="7.0" fill="#000" stroke="#000" stroke-width="0.32" letter-spacing="0.1" text-anchor="start" font-weight="bold" text-rendering="geometricPrecision" >Fresh</text>
<text x="22.3" y="64.9" font-size="7.25" fill="#000" stroke="#000" stroke-width="0.32" letter-spacing="0.1" text-anchor="start" font-weight="bold" text-rendering="geometricPrecision" >Blank electrolyte</text>
<text x="21.5" y="116.0" font-size="6.8" fill="#000" stroke="#000" stroke-width="0.32" letter-spacing="0.1" text-anchor="start" font-weight="bold" text-rendering="geometricPrecision" >15 wt%PP<tspan font-size="6.6" dy="2.0">1,CN</tspan><tspan font-size="6.6" dy="-3.4">FSI</tspan></text>
<text x="168.0" y="15.2" font-size="7.2" fill="#000" stroke="#000" stroke-width="0.32" letter-spacing="0.1" text-anchor="start" font-weight="bold" text-rendering="geometricPrecision" >C1s</text>
<text x="74.4" y="26.6" font-size="7.0" fill="#5cf046" stroke="#5cf046" stroke-width="0.32" letter-spacing="0.1" text-anchor="start" font-weight="bold" text-rendering="geometricPrecision" >PVDF</text>
<text x="94.0" y="32.9" font-size="7.2" fill="#d04c98" stroke="#d04c98" stroke-width="0.32" letter-spacing="0.1" text-anchor="start" font-weight="bold" text-rendering="geometricPrecision" >C=O</text>
<text x="120.6" y="25.8" font-size="7.0" fill="#3552d0" stroke="#3552d0" stroke-width="0.32" letter-spacing="0.1" text-anchor="start" font-weight="bold" text-rendering="geometricPrecision" >C-O</text>
<text x="148.0" y="12.0" font-size="6.8" fill="#d04c98" stroke="#d04c98" stroke-width="0.32" letter-spacing="0.1" text-anchor="start" font-weight="bold" text-rendering="geometricPrecision" >C-C</text>
<text x="29.8" y="166.6" font-size="7.2" fill="#000" stroke="#000" stroke-width="0.32" letter-spacing="0.1" text-anchor="middle" font-weight="bold" text-rendering="geometricPrecision" >297</text>
<text x="57.3" y="166.6" font-size="7.2" fill="#000" stroke="#000" stroke-width="0.32" letter-spacing="0.1" text-anchor="middle" font-weight="bold" text-rendering="geometricPrecision" >294</text>
<text x="84.4" y="166.6" font-size="7.2" fill="#000" stroke="#000" stroke-width="0.32" letter-spacing="0.1" text-anchor="middle" font-weight="bold" text-rendering="geometricPrecision" >291</text>
<text x="112.3" y="166.6" font-size="7.2" fill="#000" stroke="#000" stroke-width="0.32" letter-spacing="0.1" text-anchor="middle" font-weight="bold" text-rendering="geometricPrecision" >288</text>
<text x="139.7" y="166.6" font-size="7.2" fill="#000" stroke="#000" stroke-width="0.32" letter-spacing="0.1" text-anchor="middle" font-weight="bold" text-rendering="geometricPrecision" >285</text>
<text x="166.9" y="166.6" font-size="7.2" fill="#000" stroke="#000" stroke-width="0.32" letter-spacing="0.1" text-anchor="middle" font-weight="bold" text-rendering="geometricPrecision" >282</text>
<text x="102.5" y="179.2" font-size="7.6" fill="#000" stroke="#000" stroke-width="0.32" letter-spacing="0.1" text-anchor="middle" font-weight="bold" text-rendering="geometricPrecision" >Binding energy (eV)</text>
<text x="0" y="0" font-size="7.7" fill="#000" stroke="#000" stroke-width="0.32" letter-spacing="0.1" text-anchor="middle" font-weight="bold" text-rendering="geometricPrecision" transform="translate(10.0,82.2) rotate(-90)">Intensity (a.u.)</text>
<polyline points="212.3,49.5 213.3,49.5 214.3,49.5 215.3,49.5 216.3,49.5 217.3,49.5 218.3,49.5 219.3,49.5 220.3,49.5 221.3,49.5 222.3,49.5 223.3,49.5 224.3,49.5 225.3,49.5 226.3,49.5 227.3,49.5 228.3,49.5 229.3,49.5 230.3,49.5 231.3,49.5 232.3,49.5 233.3,49.5 234.3,49.5 235.3,49.5 236.3,49.5 237.3,49.5 238.3,49.5 239.3,49.5 240.3,49.5 241.3,49.5 242.3,49.5 243.3,49.5 244.3,49.5 245.3,49.5 246.3,49.5 247.3,49.5 248.3,49.5 249.3,49.5 250.3,49.5 251.3,49.5 252.3,49.5 253.3,49.5 254.3,49.5 255.3,49.5 256.3,49.5 257.3,49.5 258.3,49.5 259.3,49.5 260.3,49.5 261.3,49.5 262.3,49.5 263.3,49.5 264.3,49.5 265.3,49.5 266.3,49.5 267.3,49.5 268.3,49.5 269.3,49.5 270.3,49.5 271.3,49.5 272.3,49.5 273.3,49.5 274.3,49.5 275.3,49.5 276.3,49.5 277.3,49.5 278.3,49.5 279.3,49.5 280.3,49.5 281.3,49.5 282.3,49.5 283.3,49.5 284.3,49.5 285.3,49.5 286.3,49.5 287.3,49.5 288.3,49.5 289.3,49.5 290.3,49.5 291.3,49.5 292.3,49.5 293.3,49.5 294.3,49.5 295.3,49.5 296.3,49.5 297.3,49.5 298.3,49.5 299.3,49.5 300.3,49.5 301.3,49.5 302.3,49.5 303.3,49.5 304.3,49.5 305.3,49.5 306.3,49.5 307.3,49.5 308.3,49.5 309.3,49.5 310.3,49.5 311.3,49.5 312.3,49.5 313.3,49.5 314.3,49.5 315.3,49.5 316.3,49.5 317.3,49.5 318.3,49.5 319.3,49.5 320.3,49.5 321.3,49.5 322.3,49.5 323.3,49.5 324.3,49.5 325.3,49.5 326.3,49.5 327.3,49.5 328.3,49.5 329.3,49.5 330.3,49.5 331.3,49.5 332.3,49.5 333.3,49.5 334.3,49.5 335.3,49.5 336.3,49.5 337.3,49.5 338.3,49.5 339.3,49.5 340.3,49.5 341.3,49.5 342.3,49.5 343.3,49.5 344.3,49.5 345.3,49.5 346.3,49.5 347.3,49.5 348.3,49.5 349.3,49.5 350.3,49.5 351.3,49.5 352.3,49.5 353.3,49.5 354.3,49.5 355.3,49.5 356.3,49.5 357.3,49.5 358.3,49.5 359.3,49.5 360.3,49.5 361.3,49.5 362.3,49.5 363.3,49.5 364.3,49.5 365.3,49.5 366.3,49.5 367.3,49.5 368.3,49.5 369.3,49.5 370.3,49.5 371.3,49.5 372.3,49.5 373.3,49.5 374.3,49.5 375.3,49.5 376.3,49.5 377.3,49.5" fill="none" stroke="#9a9a9a" stroke-width="1.2" stroke-linejoin="round" />
<polyline points="212.3,49.0 213.3,49.0 214.3,49.0 215.3,49.0 216.3,49.0 217.3,49.0 218.3,49.0 219.3,49.0 220.3,49.0 221.3,49.0 222.3,49.0 223.3,49.0 224.3,49.0 225.3,49.0 226.3,49.0 227.3,49.0 228.3,49.0 229.3,49.0 230.3,49.0 231.3,49.0 232.3,49.0 233.3,49.0 234.3,49.0 235.3,49.0 236.3,49.0 237.3,49.0 238.3,49.0 239.3,49.0 240.3,49.0 241.3,49.0 242.3,49.0 243.3,49.0 244.3,49.0 245.3,49.0 246.3,49.0 247.3,49.0 248.3,49.0 249.3,49.0 250.3,49.0 251.3,49.0 252.3,49.0 253.3,49.0 254.3,49.0 255.3,49.0 256.3,49.0 257.3,49.0 258.3,49.0 259.3,49.0 260.3,49.0 261.3,49.0 262.3,49.0 263.3,49.0 264.3,49.0 265.3,49.0 266.3,49.0 267.3,49.0 268.3,49.0 269.3,49.0 270.3,49.0 271.3,49.0 272.3,49.0 273.3,49.0 274.3,49.0 275.3,49.0 276.3,49.0 277.3,49.0 278.3,49.0 279.3,49.0 280.3,49.0 281.3,49.0 282.3,49.0 283.3,49.0 284.3,49.0 285.3,49.0 286.3,49.0 287.3,49.0 288.3,49.0 289.3,49.0 290.3,49.0 291.3,49.0 292.3,49.0 293.3,49.0 294.3,49.0 295.3,49.0 296.3,49.0 297.3,49.0 298.3,49.0 299.3,49.0 300.3,49.0 301.3,49.0 302.3,49.0 303.3,49.0 304.3,49.0 305.3,49.0 306.3,49.0 307.3,49.0 308.3,49.0 309.3,49.0 310.3,49.0 311.3,49.0 312.3,49.0 313.3,49.0 314.3,49.0 315.3,49.0 316.3,49.0 317.3,49.0 318.3,49.0 319.3,49.0 320.3,49.0 321.3,49.0 322.3,49.0 323.3,49.0 324.3,49.0 325.3,49.0 326.3,49.0 327.3,49.0 328.3,49.0 329.3,49.0 330.3,49.0 331.3,49.0 332.3,49.0 333.3,49.0 334.3,49.0 335.3,49.0 336.3,49.0 337.3,49.0 338.3,49.0 339.3,49.0 340.3,49.0 341.3,49.0 342.3,49.0 343.3,49.0 344.3,49.0 345.3,49.0 346.3,49.0 347.3,49.0 348.3,49.0 349.3,49.0 350.3,49.0 351.3,49.0 352.3,49.0 353.3,49.0 354.3,49.0 355.3,49.0 356.3,49.0 357.3,49.0 358.3,49.0 359.3,49.0 360.3,49.0 361.3,49.0 362.3,49.0 363.3,49.0 364.3,49.0 365.3,49.0 366.3,49.0 367.3,49.0 368.3,49.0 369.3,49.0 370.3,49.0 371.3,49.0 372.3,49.0 373.3,49.0 374.3,49.0 375.3,49.0 376.3,49.0 377.3,49.0" fill="none" stroke="#a8146e" stroke-width="1.4" stroke-linejoin="round" />
<polyline points="212.3,49.0 213.3,49.0 214.3,49.0 215.3,49.0 216.3,49.0 217.3,49.0 218.3,49.0 219.3,49.0 220.3,49.0 221.3,49.0 222.3,49.0 223.3,49.0 224.3,49.0 225.3,49.0 226.3,49.0 227.3,49.0 228.3,49.0 229.3,49.0 230.3,49.0 231.3,49.0 232.3,49.0 233.3,49.0 234.3,49.0 235.3,49.0 236.3,49.0 237.3,49.0 238.3,49.0 239.3,49.0 240.3,49.0 241.3,49.0 242.3,49.0 243.3,49.0 244.3,49.0 245.3,49.0 246.3,49.0 247.3,49.0 248.3,49.0 249.3,49.0 250.3,49.0 251.3,49.0 252.3,49.0 253.3,49.0 254.3,49.0 255.3,49.0 256.3,48.9 257.3,48.9 258.3,48.9 259.3,48.9 260.3,48.9 261.3,48.9 262.3,48.9 263.3,48.9 264.3,48.9 265.3,48.9 266.3,48.9 267.3,48.9 268.3,48.9 269.3,48.9 270.3,48.9 271.3,48.9 272.3,48.9 273.3,48.9 274.3,48.9 275.3,48.9 276.3,48.9 277.3,48.9 278.3,48.9 279.3,48.9 280.3,48.9 281.3,48.9 282.3,48.9 283.3,48.9 284.3,48.9 285.3,48.8 286.3,48.8 287.3,48.8 288.3,48.8 289.3,48.8 290.3,48.8 291.3,48.8 292.3,48.8 293.3,48.8 294.3,48.8 295.3,48.7 296.3,48.7 297.3,48.7 298.3,48.7 299.3,48.7 300.3,48.6 301.3,48.6 302.3,48.6 303.3,48.5 304.3,48.5 305.3,48.4 306.3,48.3 307.3,48.1 308.3,47.9 309.3,47.6 310.3,47.1 311.3,46.4 312.3,45.5 313.3,44.2 314.3,42.5 315.3,40.3 316.3,37.7 317.3,34.5 318.3,31.0 319.3,27.1 320.3,23.2 321.3,19.4 322.3,16.0 323.3,13.4 324.3,11.8 325.3,11.4 326.3,12.3 327.3,14.3 328.3,17.3 329.3,20.9 330.3,24.8 331.3,28.7 332.3,32.4 333.3,35.8 334.3,38.8 335.3,41.3 336.3,43.2 337.3,44.7 338.3,45.9 339.3,46.7 340.3,47.3 341.3,47.7 342.3,48.0 343.3,48.2 344.3,48.3 345.3,48.4 346.3,48.5 347.3,48.5 348.3,48.6 349.3,48.6 350.3,48.6 351.3,48.7 352.3,48.7 353.3,48.7 354.3,48.7 355.3,48.7 356.3,48.8 357.3,48.8 358.3,48.8 359.3,48.8 360.3,48.8 361.3,48.8 362.3,48.8 363.3,48.8 364.3,48.8 365.3,48.9 366.3,48.9 367.3,48.9 368.3,48.9 369.3,48.9 370.3,48.9 371.3,48.9 372.3,48.9 373.3,48.9 374.3,48.9 375.3,48.9 376.3,48.9 377.3,48.9" fill="none" stroke="#a8146e" stroke-width="1.8" stroke-linejoin="round" />
<polyline points="212.3,48.9 213.3,48.9 214.3,48.9 215.3,48.9 216.3,48.9 217.3,48.9 218.3,48.9 219.3,48.9 220.3,48.9 221.3,48.9 222.3,48.9 223.3,48.9 224.3,48.9 225.3,48.9 226.3,48.9 227.3,48.9 228.3,48.9 229.3,48.9 230.3,48.9 231.3,48.9 232.3,48.9 233.3,48.9 234.3,48.9 235.3,48.9 236.3,48.9 237.3,48.9 238.3,48.9 239.3,48.9 240.3,48.9 241.3,48.9 242.3,48.9 243.3,48.9 244.3,48.9 245.3,48.9 246.3,48.8 247.3,48.8 248.3,48.8 249.3,48.8 250.3,48.8 251.3,48.8 252.3,48.8 253.3,48.8 254.3,48.7 255.3,48.7 256.3,48.7 257.3,48.7 258.3,48.6 259.3,48.6 260.3,48.5 261.3,48.5 262.3,48.4 263.3,48.3 264.3,48.2 265.3,48.1 266.3,48.0 267.3,47.9 268.3,47.8 269.3,47.6 270.3,47.4 271.3,47.2 272.3,47.0 273.3,46.8 274.3,46.6 275.3,46.3 276.3,46.0 277.3,45.7 278.3,45.4 279.3,45.1 280.3,44.7 281.3,44.3 282.3,43.9 283.3,43.5 284.3,43.1 285.3,42.7 286.3,42.3 287.3,41.9 288.3,41.5 289.3,41.1 290.3,40.7 291.3,40.4 292.3,40.0 293.3,39.7 294.3,39.4 295.3,39.1 296.3,38.9 297.3,38.7 298.3,38.6 299.3,38.5 300.3,38.4 301.3,38.4 302.3,38.4 303.3,38.5 304.3,38.6 305.3,38.7 306.3,38.9 307.3,39.0 308.3,39.1 309.3,39.1 310.3,38.9 311.3,38.6 312.3,38.1 313.3,37.2 314.3,35.9 315.3,34.1 316.3,31.9 317.3,29.1 318.3,26.0 319.3,22.5 320.3,18.9 321.3,15.5 322.3,12.5 323.3,10.2 324.3,8.9 325.3,8.8 326.3,9.9 327.3,12.2 328.3,15.4 329.3,19.2 330.3,23.2 331.3,27.3 332.3,31.2 333.3,34.8 334.3,37.9 335.3,40.4 336.3,42.5 337.3,44.1 338.3,45.3 339.3,46.2 340.3,46.9 341.3,47.3 342.3,47.7 343.3,47.9 344.3,48.0 345.3,48.2 346.3,48.3 347.3,48.3 348.3,48.4 349.3,48.4 350.3,48.5 351.3,48.5 352.3,48.6 353.3,48.6 354.3,48.6 355.3,48.6 356.3,48.7 357.3,48.7 358.3,48.7 359.3,48.7 360.3,48.7 361.3,48.7 362.3,48.7 363.3,48.8 364.3,48.8 365.3,48.8 366.3,48.8 367.3,48.8 368.3,48.8 369.3,48.8 370.3,48.8 371.3,48.8 372.3,48.8 373.3,48.8 374.3,48.8 375.3,48.9 376.3,48.9 377.3,48.9" fill="none" stroke="#141414" stroke-width="1.7" stroke-linejoin="round" />
<polyline points="212.3,49.0 213.3,49.0 214.3,49.0 215.3,49.0 216.3,49.0 217.3,49.0 218.3,49.0 219.3,49.0 220.3,49.0 221.3,49.0 222.3,49.0 223.3,48.9 224.3,48.9 225.3,48.9 226.3,48.9 227.3,48.9 228.3,48.9 229.3,48.9 230.3,48.9 231.3,48.9 232.3,48.9 233.3,48.9 234.3,48.9 235.3,48.9 236.3,48.9 237.3,48.9 238.3,48.9 239.3,48.9 240.3,48.9 241.3,48.9 242.3,48.9 243.3,48.9 244.3,48.9 245.3,48.9 246.3,48.9 247.3,48.9 248.3,48.9 249.3,48.9 250.3,48.9 251.3,48.8 252.3,48.8 253.3,48.8 254.3,48.8 255.3,48.8 256.3,48.7 257.3,48.7 258.3,48.7 259.3,48.6 260.3,48.6 261.3,48.5 262.3,48.5 263.3,48.4 264.3,48.3 265.3,48.2 266.3,48.1 267.3,48.0 268.3,47.8 269.3,47.7 270.3,47.5 271.3,47.3 272.3,47.1 273.3,46.9 274.3,46.7 275.3,46.4 276.3,46.1 277.3,45.8 278.3,45.5 279.3,45.2 280.3,44.8 281.3,44.4 282.3,44.1 283.3,43.7 284.3,43.3 285.3,42.9 286.3,42.5 287.3,42.1 288.3,41.7 289.3,41.3 290.3,40.9 291.3,40.6 292.3,40.2 293.3,39.9 294.3,39.6 295.3,39.4 296.3,39.2 297.3,39.0 298.3,38.9 299.3,38.8 300.3,38.8 301.3,38.8 302.3,38.9 303.3,39.0 304.3,39.2 305.3,39.3 306.3,39.6 307.3,39.9 308.3,40.2 309.3,40.5 310.3,40.8 311.3,41.2 312.3,41.6 313.3,42.0 314.3,42.4 315.3,42.8 316.3,43.2 317.3,43.6 318.3,44.0 319.3,44.4 320.3,44.7 321.3,45.1 322.3,45.4 323.3,45.8 324.3,46.1 325.3,46.3 326.3,46.6 327.3,46.9 328.3,47.1 329.3,47.3 330.3,47.5 331.3,47.6 332.3,47.8 333.3,47.9 334.3,48.1 335.3,48.2 336.3,48.3 337.3,48.4 338.3,48.4 339.3,48.5 340.3,48.6 341.3,48.6 342.3,48.7 343.3,48.7 344.3,48.7 345.3,48.8 346.3,48.8 347.3,48.8 348.3,48.8 349.3,48.8 350.3,48.9 351.3,48.9 352.3,48.9 353.3,48.9 354.3,48.9 355.3,48.9 356.3,48.9 357.3,48.9 358.3,48.9 359.3,48.9 360.3,48.9 361.3,48.9 362.3,48.9 363.3,48.9 364.3,48.9 365.3,48.9 366.3,48.9 367.3,48.9 368.3,48.9 369.3,48.9 370.3,48.9 371.3,48.9 372.3,48.9 373.3,48.9 374.3,48.9 375.3,48.9 376.3,48.9 377.3,48.9" fill="none" stroke="#3552d0" stroke-width="1.8" stroke-linejoin="round" />
<polyline points="212.3,102.0 213.3,102.0 214.3,102.0 215.3,102.0 216.3,102.0 217.3,102.0 218.3,102.0 219.3,102.0 220.3,102.0 221.3,102.0 222.3,102.0 223.3,102.0 224.3,102.0 225.3,102.0 226.3,102.0 227.3,102.0 228.3,102.0 229.3,102.0 230.3,102.0 231.3,102.0 232.3,102.0 233.3,102.0 234.3,102.0 235.3,102.0 236.3,102.0 237.3,102.0 238.3,102.0 239.3,102.0 240.3,102.0 241.3,102.0 242.3,102.0 243.3,102.0 244.3,102.0 245.3,102.0 246.3,102.0 247.3,102.0 248.3,102.0 249.3,102.0 250.3,102.0 251.3,102.0 252.3,102.0 253.3,102.0 254.3,102.0 255.3,102.0 256.3,102.0 257.3,102.0 258.3,102.0 259.3,102.0 260.3,102.0 261.3,102.0 262.3,102.0 263.3,102.0 264.3,102.0 265.3,102.0 266.3,102.0 267.3,102.0 268.3,102.0 269.3,102.0 270.3,102.0 271.3,102.0 272.3,102.0 273.3,102.0 274.3,102.0 275.3,102.0 276.3,102.0 277.3,102.0 278.3,102.0 279.3,102.0 280.3,102.0 281.3,102.0 282.3,102.0 283.3,102.0 284.3,102.0 285.3,102.0 286.3,102.0 287.3,102.0 288.3,102.0 289.3,102.0 290.3,102.0 291.3,102.0 292.3,102.0 293.3,102.0 294.3,102.0 295.3,102.0 296.3,102.0 297.3,102.0 298.3,102.0 299.3,102.0 300.3,102.0 301.3,102.0 302.3,102.0 303.3,102.0 304.3,102.0 305.3,102.0 306.3,102.0 307.3,102.0 308.3,102.0 309.3,102.0 310.3,102.0 311.3,102.0 312.3,102.0 313.3,102.0 314.3,102.0 315.3,102.0 316.3,102.0 317.3,102.0 318.3,102.0 319.3,102.0 320.3,102.0 321.3,102.0 322.3,102.0 323.3,102.0 324.3,102.0 325.3,102.0 326.3,102.0 327.3,102.0 328.3,102.0 329.3,102.0 330.3,102.0 331.3,102.0 332.3,102.0 333.3,102.0 334.3,102.0 335.3,102.0 336.3,102.0 337.3,102.0 338.3,102.0 339.3,102.0 340.3,102.0 341.3,102.0 342.3,102.0 343.3,102.0 344.3,102.0 345.3,102.0 346.3,102.0 347.3,102.0 348.3,102.0 349.3,102.0 350.3,102.0 351.3,102.0 352.3,102.0 353.3,102.0 354.3,102.0 355.3,102.0 356.3,102.0 357.3,102.0 358.3,102.0 359.3,102.0 360.3,102.0 361.3,102.0 362.3,102.0 363.3,102.0 364.3,102.0 365.3,102.0 366.3,102.0 367.3,102.0 368.3,102.0 369.3,102.0 370.3,102.0 371.3,102.0 372.3,102.0 373.3,102.0 374.3,102.0 375.3,102.0 376.3,102.0 377.3,102.0" fill="none" stroke="#a8146e" stroke-width="1.8" stroke-linejoin="round" />
<polyline points="212.3,102.0 213.3,102.0 214.3,102.0 215.3,102.0 216.3,102.0 217.3,102.0 218.3,102.0 219.3,102.0 220.3,102.0 221.3,102.0 222.3,102.0 223.3,102.0 224.3,102.0 225.3,102.0 226.3,102.0 227.3,102.0 228.3,102.0 229.3,102.0 230.3,102.0 231.3,102.0 232.3,102.0 233.3,102.0 234.3,102.0 235.3,102.0 236.3,102.0 237.3,102.0 238.3,102.0 239.3,102.0 240.3,102.0 241.3,102.0 242.3,102.0 243.3,102.0 244.3,102.0 245.3,102.0 246.3,102.0 247.3,102.0 248.3,102.0 249.3,102.0 250.3,102.0 251.3,102.0 252.3,102.0 253.3,102.0 254.3,102.0 255.3,102.0 256.3,102.0 257.3,102.0 258.3,102.0 259.3,102.0 260.3,102.0 261.3,102.0 262.3,102.0 263.3,102.0 264.3,102.0 265.3,102.0 266.3,102.0 267.3,102.0 268.3,102.0 269.3,102.0 270.3,102.0 271.3,102.0 272.3,102.0 273.3,102.0 274.3,102.0 275.3,102.0 276.3,102.0 277.3,102.0 278.3,102.0 279.3,102.0 280.3,102.0 281.3,102.0 282.3,102.0 283.3,102.0 284.3,102.0 285.3,102.0 286.3,102.0 287.3,102.0 288.3,102.0 289.3,102.0 290.3,102.0 291.3,102.0 292.3,102.0 293.3,102.0 294.3,102.0 295.3,102.0 296.3,102.0 297.3,102.0 298.3,102.0 299.3,102.0 300.3,102.0 301.3,102.0 302.3,102.0 303.3,102.0 304.3,102.0 305.3,102.0 306.3,102.0 307.3,102.0 308.3,102.0 309.3,102.0 310.3,102.0 311.3,101.9 312.3,101.8 313.3,101.7 314.3,101.5 315.3,101.2 316.3,100.7 317.3,100.1 318.3,99.3 319.3,98.3 320.3,97.3 321.3,96.2 322.3,95.3 323.3,94.6 324.3,94.2 325.3,94.2 326.3,94.6 327.3,95.3 328.3,96.2 329.3,97.3 330.3,98.3 331.3,99.3 332.3,100.1 333.3,100.7 334.3,101.2 335.3,101.5 336.3,101.7 337.3,101.8 338.3,101.9 339.3,102.0 340.3,102.0 341.3,102.0 342.3,102.0 343.3,102.0 344.3,102.0 345.3,102.0 346.3,102.0 347.3,102.0 348.3,102.0 349.3,102.0 350.3,102.0 351.3,102.0 352.3,102.0 353.3,102.0 354.3,102.0 355.3,102.0 356.3,102.0 357.3,102.0 358.3,102.0 359.3,102.0 360.3,102.0 361.3,102.0 362.3,102.0 363.3,102.0 364.3,102.0 365.3,102.0 366.3,102.0 367.3,102.0 368.3,102.0 369.3,102.0 370.3,102.0 371.3,102.0 372.3,102.0 373.3,102.0 374.3,102.0 375.3,102.0 376.3,102.0 377.3,102.0" fill="none" stroke="#a8146e" stroke-width="1.8" stroke-linejoin="round" />
<polyline points="212.3,102.0 213.3,102.0 214.3,102.0 215.3,102.0 216.3,102.0 217.3,102.0 218.3,102.0 219.3,102.0 220.3,102.0 221.3,102.0 222.3,102.0 223.3,102.0 224.3,102.0 225.3,102.0 226.3,102.0 227.3,102.0 228.3,102.0 229.3,102.0 230.3,102.0 231.3,101.9 232.3,101.9 233.3,101.9 234.3,101.9 235.3,101.8 236.3,101.8 237.3,101.7 238.3,101.7 239.3,101.6 240.3,101.5 241.3,101.4 242.3,101.3 243.3,101.1 244.3,101.0 245.3,100.8 246.3,100.6 247.3,100.3 248.3,100.0 249.3,99.7 250.3,99.4 251.3,99.0 252.3,98.6 253.3,98.2 254.3,97.7 255.3,97.2 256.3,96.6 257.3,96.1 258.3,95.5 259.3,94.8 260.3,94.2 261.3,93.5 262.3,92.8 263.3,92.1 264.3,91.3 265.3,90.6 266.3,89.8 267.3,89.0 268.3,88.3 269.3,87.5 270.3,86.7 271.3,85.9 272.3,85.1 273.3,84.3 274.3,83.5 275.3,82.7 276.3,81.8 277.3,81.0 278.3,80.1 279.3,79.3 280.3,78.3 281.3,77.4 282.3,76.4 283.3,75.4 284.3,74.4 285.3,73.3 286.3,72.2 287.3,71.1 288.3,70.0 289.3,68.9 290.3,67.8 291.3,66.8 292.3,65.9 293.3,65.1 294.3,64.5 295.3,64.0 296.3,63.7 297.3,63.6 298.3,63.7 299.3,64.0 300.3,64.6 301.3,65.4 302.3,66.5 303.3,67.7 304.3,69.1 305.3,70.8 306.3,72.5 307.3,74.4 308.3,76.3 309.3,78.3 310.3,80.3 311.3,82.2 312.3,84.1 313.3,85.9 314.3,87.5 315.3,88.8 316.3,89.9 317.3,90.8 318.3,91.3 319.3,91.5 320.3,91.6 321.3,91.5 322.3,91.4 323.3,91.4 324.3,91.6 325.3,92.1 326.3,92.9 327.3,93.9 328.3,95.2 329.3,96.4 330.3,97.7 331.3,98.7 332.3,99.7 333.3,100.4 334.3,100.9 335.3,101.3 336.3,101.6 337.3,101.7 338.3,101.9 339.3,101.9 340.3,101.9 341.3,102.0 342.3,102.0 343.3,102.0 344.3,102.0 345.3,102.0 346.3,102.0 347.3,102.0 348.3,102.0 349.3,102.0 350.3,102.0 351.3,102.0 352.3,102.0 353.3,102.0 354.3,102.0 355.3,102.0 356.3,102.0 357.3,102.0 358.3,102.0 359.3,102.0 360.3,102.0 361.3,102.0 362.3,102.0 363.3,102.0 364.3,102.0 365.3,102.0 366.3,102.0 367.3,102.0 368.3,102.0 369.3,102.0 370.3,102.0 371.3,102.0 372.3,102.0 373.3,102.0 374.3,102.0 375.3,102.0 376.3,102.0 377.3,102.0" fill="none" stroke="#141414" stroke-width="1.7" stroke-linejoin="round" />
<polyline points="212.3,102.0 213.3,102.0 214.3,102.0 215.3,102.0 216.3,102.0 217.3,102.0 218.3,102.0 219.3,102.0 220.3,102.0 221.3,102.0 222.3,102.0 223.3,102.0 224.3,102.0 225.3,102.0 226.3,102.0 227.3,102.0 228.3,102.0 229.3,102.0 230.3,102.0 231.3,102.0 232.3,101.9 233.3,101.9 234.3,101.9 235.3,101.9 236.3,101.9 237.3,101.8 238.3,101.8 239.3,101.7 240.3,101.7 241.3,101.6 242.3,101.5 243.3,101.4 244.3,101.3 245.3,101.2 246.3,101.0 247.3,100.8 248.3,100.6 249.3,100.4 250.3,100.1 251.3,99.8 252.3,99.5 253.3,99.1 254.3,98.7 255.3,98.3 256.3,97.8 257.3,97.2 258.3,96.7 259.3,96.1 260.3,95.4 261.3,94.7 262.3,94.0 263.3,93.3 264.3,92.6 265.3,91.8 266.3,91.0 267.3,90.3 268.3,89.5 269.3,88.8 270.3,88.1 271.3,87.4 272.3,86.8 273.3,86.2 274.3,85.7 275.3,85.3 276.3,84.9 277.3,84.6 278.3,84.4 279.3,84.3 280.3,84.3 281.3,84.4 282.3,84.5 283.3,84.8 284.3,85.1 285.3,85.5 286.3,86.0 287.3,86.5 288.3,87.2 289.3,87.8 290.3,88.5 291.3,89.2 292.3,90.0 293.3,90.7 294.3,91.5 295.3,92.3 296.3,93.0 297.3,93.8 298.3,94.5 299.3,95.2 300.3,95.8 301.3,96.4 302.3,97.0 303.3,97.6 304.3,98.1 305.3,98.5 306.3,99.0 307.3,99.4 308.3,99.7 309.3,100.0 310.3,100.3 311.3,100.5 312.3,100.8 313.3,101.0 314.3,101.1 315.3,101.3 316.3,101.4 317.3,101.5 318.3,101.6 319.3,101.7 320.3,101.7 321.3,101.8 322.3,101.8 323.3,101.9 324.3,101.9 325.3,101.9 326.3,101.9 327.3,101.9 328.3,102.0 329.3,102.0 330.3,102.0 331.3,102.0 332.3,102.0 333.3,102.0 334.3,102.0 335.3,102.0 336.3,102.0 337.3,102.0 338.3,102.0 339.3,102.0 340.3,102.0 341.3,102.0 342.3,102.0 343.3,102.0 344.3,102.0 345.3,102.0 346.3,102.0 347.3,102.0 348.3,102.0 349.3,102.0 350.3,102.0 351.3,102.0 352.3,102.0 353.3,102.0 354.3,102.0 355.3,102.0 356.3,102.0 357.3,102.0 358.3,102.0 359.3,102.0 360.3,102.0 361.3,102.0 362.3,102.0 363.3,102.0 364.3,102.0 365.3,102.0 366.3,102.0 367.3,102.0 368.3,102.0 369.3,102.0 370.3,102.0 371.3,102.0 372.3,102.0 373.3,102.0 374.3,102.0 375.3,102.0 376.3,102.0 377.3,102.0" fill="none" stroke="#5cf046" stroke-width="2.0" stroke-linejoin="round" />
<polyline points="212.3,102.0 213.3,102.0 214.3,102.0 215.3,102.0 216.3,102.0 217.3,102.0 218.3,102.0 219.3,102.0 220.3,102.0 221.3,102.0 222.3,102.0 223.3,102.0 224.3,102.0 225.3,102.0 226.3,102.0 227.3,102.0 228.3,102.0 229.3,102.0 230.3,102.0 231.3,102.0 232.3,102.0 233.3,102.0 234.3,102.0 235.3,102.0 236.3,102.0 237.3,102.0 238.3,102.0 239.3,102.0 240.3,102.0 241.3,102.0 242.3,102.0 243.3,102.0 244.3,102.0 245.3,102.0 246.3,102.0 247.3,102.0 248.3,102.0 249.3,102.0 250.3,102.0 251.3,102.0 252.3,102.0 253.3,102.0 254.3,102.0 255.3,102.0 256.3,102.0 257.3,102.0 258.3,102.0 259.3,102.0 260.3,102.0 261.3,102.0 262.3,101.9 263.3,101.9 264.3,101.9 265.3,101.8 266.3,101.8 267.3,101.7 268.3,101.6 269.3,101.5 270.3,101.3 271.3,101.1 272.3,100.9 273.3,100.6 274.3,100.2 275.3,99.8 276.3,99.2 277.3,98.6 278.3,97.9 279.3,97.1 280.3,96.2 281.3,95.1 282.3,94.0 283.3,92.7 284.3,91.3 285.3,89.8 286.3,88.2 287.3,86.5 288.3,84.8 289.3,83.1 290.3,81.3 291.3,79.6 292.3,78.0 293.3,76.4 294.3,75.0 295.3,73.7 296.3,72.7 297.3,71.8 298.3,71.2 299.3,70.9 300.3,70.8 301.3,71.0 302.3,71.4 303.3,72.1 304.3,73.1 305.3,74.2 306.3,75.5 307.3,77.0 308.3,78.6 309.3,80.3 310.3,82.0 311.3,83.8 312.3,85.5 313.3,87.2 314.3,88.9 315.3,90.4 316.3,91.9 317.3,93.2 318.3,94.5 319.3,95.6 320.3,96.6 321.3,97.5 322.3,98.2 323.3,98.9 324.3,99.5 325.3,99.9 326.3,100.4 327.3,100.7 328.3,101.0 329.3,101.2 330.3,101.4 331.3,101.5 332.3,101.6 333.3,101.7 334.3,101.8 335.3,101.8 336.3,101.9 337.3,101.9 338.3,101.9 339.3,102.0 340.3,102.0 341.3,102.0 342.3,102.0 343.3,102.0 344.3,102.0 345.3,102.0 346.3,102.0 347.3,102.0 348.3,102.0 349.3,102.0 350.3,102.0 351.3,102.0 352.3,102.0 353.3,102.0 354.3,102.0 355.3,102.0 356.3,102.0 357.3,102.0 358.3,102.0 359.3,102.0 360.3,102.0 361.3,102.0 362.3,102.0 363.3,102.0 364.3,102.0 365.3,102.0 366.3,102.0 367.3,102.0 368.3,102.0 369.3,102.0 370.3,102.0 371.3,102.0 372.3,102.0 373.3,102.0 374.3,102.0 375.3,102.0 376.3,102.0 377.3,102.0" fill="none" stroke="#3552d0" stroke-width="1.8" stroke-linejoin="round" />
<polyline points="212.3,102.0 213.3,102.0 214.3,102.0 215.3,102.0 216.3,102.0 217.3,102.0 218.3,102.0 219.3,102.0 220.3,102.0 221.3,102.0 222.3,102.0 223.3,102.0 224.3,102.0 225.3,102.0 226.3,102.0 227.3,102.0 228.3,102.0 229.3,102.0 230.3,102.0 231.3,102.0 232.3,102.0 233.3,102.0 234.3,102.0 235.3,102.0 236.3,102.0 237.3,102.0 238.3,102.0 239.3,102.0 240.3,102.0 241.3,102.0 242.3,102.0 243.3,102.0 244.3,102.0 245.3,102.0 246.3,102.0 247.3,102.0 248.3,102.0 249.3,102.0 250.3,102.0 251.3,102.0 252.3,102.0 253.3,102.0 254.3,102.0 255.3,102.0 256.3,102.0 257.3,102.0 258.3,102.0 259.3,102.0 260.3,102.0 261.3,102.0 262.3,102.0" fill="none" stroke="#b8307e" stroke-width="1.6" stroke-linejoin="round" />
<polyline points="338.0,102.0 339.0,102.0 340.0,102.0 341.0,102.0 342.0,102.0 343.0,102.0 344.0,102.0 345.0,102.0 346.0,102.0 347.0,102.0 348.0,102.0 349.0,102.0 350.0,102.0 351.0,102.0 352.0,102.0 353.0,102.0 354.0,102.0 355.0,102.0 356.0,102.0 357.0,102.0 358.0,102.0 359.0,102.0 360.0,102.0 361.0,102.0 362.0,102.0 363.0,102.0 364.0,102.0 365.0,102.0 366.0,102.0 367.0,102.0 368.0,102.0 369.0,102.0 370.0,102.0 371.0,102.0 372.0,102.0 373.0,102.0 374.0,102.0 375.0,102.0 376.0,102.0 377.0,102.0" fill="none" stroke="#b8307e" stroke-width="1.6" stroke-linejoin="round" />
<polyline points="212.3,151.5 213.3,151.5 214.3,151.5 215.3,151.5 216.3,151.5 217.3,151.5 218.3,151.5 219.3,151.5 220.3,151.5 221.3,151.5 222.3,151.5 223.3,151.5 224.3,151.5 225.3,151.5 226.3,151.5 227.3,151.5 228.3,151.5 229.3,151.5 230.3,151.5 231.3,151.5 232.3,151.5 233.3,151.5 234.3,151.5 235.3,151.5 236.3,151.5 237.3,151.5 238.3,151.5 239.3,151.5 240.3,151.5 241.3,151.5 242.3,151.5 243.3,151.5 244.3,151.5 245.3,151.5 246.3,151.5 247.3,151.5 248.3,151.5 249.3,151.5 250.3,151.5 251.3,151.5 252.3,151.5 253.3,151.5 254.3,151.5 255.3,151.5 256.3,151.5 257.3,151.5 258.3,151.5 259.3,151.5 260.3,151.5 261.3,151.5 262.3,151.5 263.3,151.5 264.3,151.5 265.3,151.5 266.3,151.5 267.3,151.5 268.3,151.5 269.3,151.5 270.3,151.5 271.3,151.5 272.3,151.5 273.3,151.5 274.3,151.4 275.3,151.4 276.3,151.4 277.3,151.4 278.3,151.4 279.3,151.4 280.3,151.4 281.3,151.4 282.3,151.4 283.3,151.4 284.3,151.4 285.3,151.4 286.3,151.4 287.3,151.4 288.3,151.4 289.3,151.4 290.3,151.4 291.3,151.4 292.3,151.4 293.3,151.4 294.3,151.4 295.3,151.4 296.3,151.3 297.3,151.3 298.3,151.3 299.3,151.3 300.3,151.3 301.3,151.3 302.3,151.3 303.3,151.2 304.3,151.2 305.3,151.2 306.3,151.1 307.3,151.1 308.3,151.0 309.3,150.9 310.3,150.8 311.3,150.6 312.3,150.3 313.3,150.0 314.3,149.5 315.3,149.0 316.3,148.3 317.3,147.4 318.3,146.5 319.3,145.4 320.3,144.3 321.3,143.3 322.3,142.3 323.3,141.5 324.3,141.1 325.3,141.0 326.3,141.3 327.3,142.0 328.3,142.9 329.3,143.9 330.3,145.0 331.3,146.1 332.3,147.1 333.3,148.0 334.3,148.7 335.3,149.3 336.3,149.8 337.3,150.2 338.3,150.5 339.3,150.7 340.3,150.9 341.3,151.0 342.3,151.1 343.3,151.1 344.3,151.2 345.3,151.2 346.3,151.2 347.3,151.3 348.3,151.3 349.3,151.3 350.3,151.3 351.3,151.3 352.3,151.3 353.3,151.3 354.3,151.4 355.3,151.4 356.3,151.4 357.3,151.4 358.3,151.4 359.3,151.4 360.3,151.4 361.3,151.4 362.3,151.4 363.3,151.4 364.3,151.4 365.3,151.4 366.3,151.4 367.3,151.4 368.3,151.4 369.3,151.4 370.3,151.4 371.3,151.4 372.3,151.4 373.3,151.4 374.3,151.4 375.3,151.4 376.3,151.5 377.3,151.5" fill="none" stroke="#a8146e" stroke-width="1.8" stroke-linejoin="round" />
<polyline points="212.3,151.5 213.3,151.5 214.3,151.5 215.3,151.5 216.3,151.5 217.3,151.5 218.3,151.5 219.3,151.5 220.3,151.5 221.3,151.5 222.3,151.5 223.3,151.5 224.3,151.5 225.3,151.5 226.3,151.5 227.3,151.5 228.3,151.5 229.3,151.5 230.3,151.5 231.3,151.5 232.3,151.5 233.3,151.5 234.3,151.5 235.3,151.5 236.3,151.5 237.3,151.5 238.3,151.5 239.3,151.5 240.3,151.5 241.3,151.5 242.3,151.4 243.3,151.4 244.3,151.4 245.3,151.4 246.3,151.4 247.3,151.3 248.3,151.3 249.3,151.2 250.3,151.2 251.3,151.1 252.3,151.0 253.3,150.9 254.3,150.8 255.3,150.7 256.3,150.6 257.3,150.4 258.3,150.2 259.3,150.0 260.3,149.8 261.3,149.6 262.3,149.3 263.3,149.1 264.3,148.7 265.3,148.4 266.3,148.0 267.3,147.5 268.3,147.0 269.3,146.4 270.3,145.7 271.3,145.0 272.3,144.2 273.3,143.4 274.3,142.5 275.3,141.6 276.3,140.7 277.3,139.7 278.3,138.8 279.3,137.8 280.3,136.8 281.3,135.8 282.3,134.8 283.3,133.8 284.3,132.7 285.3,131.6 286.3,130.3 287.3,129.0 288.3,127.6 289.3,126.2 290.3,124.6 291.3,123.0 292.3,121.4 293.3,119.7 294.3,118.2 295.3,116.7 296.3,115.4 297.3,114.3 298.3,113.4 299.3,112.8 300.3,112.5 301.3,112.5 302.3,112.8 303.3,113.5 304.3,114.4 305.3,115.6 306.3,117.1 307.3,118.8 308.3,120.7 309.3,122.7 310.3,124.7 311.3,126.7 312.3,128.7 313.3,130.6 314.3,132.2 315.3,133.7 316.3,134.9 317.3,135.9 318.3,136.5 319.3,137.0 320.3,137.2 321.3,137.3 322.3,137.4 323.3,137.5 324.3,137.8 325.3,138.4 326.3,139.2 327.3,140.3 328.3,141.5 329.3,142.9 330.3,144.2 331.3,145.5 332.3,146.6 333.3,147.6 334.3,148.5 335.3,149.1 336.3,149.7 337.3,150.1 338.3,150.4 339.3,150.7 340.3,150.8 341.3,151.0 342.3,151.0 343.3,151.1 344.3,151.2 345.3,151.2 346.3,151.2 347.3,151.3 348.3,151.3 349.3,151.3 350.3,151.3 351.3,151.3 352.3,151.3 353.3,151.3 354.3,151.4 355.3,151.4 356.3,151.4 357.3,151.4 358.3,151.4 359.3,151.4 360.3,151.4 361.3,151.4 362.3,151.4 363.3,151.4 364.3,151.4 365.3,151.4 366.3,151.4 367.3,151.4 368.3,151.4 369.3,151.4 370.3,151.4 371.3,151.4 372.3,151.4 373.3,151.4 374.3,151.4 375.3,151.4 376.3,151.5 377.3,151.5" fill="none" stroke="#141414" stroke-width="1.7" stroke-linejoin="round" />
<polyline points="212.3,151.5 213.3,151.5 214.3,151.5 215.3,151.5 216.3,151.5 217.3,151.5 218.3,151.5 219.3,151.5 220.3,151.5 221.3,151.5 222.3,151.5 223.3,151.5 224.3,151.5 225.3,151.5 226.3,151.5 227.3,151.5 228.3,151.5 229.3,151.5 230.3,151.5 231.3,151.5 232.3,151.5 233.3,151.5 234.3,151.5 235.3,151.5 236.3,151.5 237.3,151.5 238.3,151.5 239.3,151.5 240.3,151.5 241.3,151.5 242.3,151.5 243.3,151.5 244.3,151.5 245.3,151.5 246.3,151.5 247.3,151.5 248.3,151.5 249.3,151.5 250.3,151.5 251.3,151.5 252.3,151.5 253.3,151.5 254.3,151.5 255.3,151.5 256.3,151.5 257.3,151.5 258.3,151.5 259.3,151.5 260.3,151.5 261.3,151.5 262.3,151.5 263.3,151.4 264.3,151.4 265.3,151.4 266.3,151.3 267.3,151.3 268.3,151.2 269.3,151.1 270.3,151.0 271.3,150.8 272.3,150.6 273.3,150.3 274.3,150.0 275.3,149.6 276.3,149.1 277.3,148.5 278.3,147.8 279.3,146.9 280.3,146.0 281.3,144.9 282.3,143.6 283.3,142.2 284.3,140.6 285.3,138.9 286.3,137.0 287.3,135.0 288.3,132.9 289.3,130.8 290.3,128.5 291.3,126.3 292.3,124.1 293.3,122.0 294.3,120.0 295.3,118.2 296.3,116.6 297.3,115.2 298.3,114.2 299.3,113.4 300.3,113.0 301.3,112.9 302.3,113.2 303.3,113.8 304.3,114.8 305.3,116.0 306.3,117.5 307.3,119.3 308.3,121.2 309.3,123.3 310.3,125.4 311.3,127.6 312.3,129.9 313.3,132.1 314.3,134.2 315.3,136.2 316.3,138.1 317.3,139.9 318.3,141.6 319.3,143.0 320.3,144.4 321.3,145.5 322.3,146.6 323.3,147.5 324.3,148.2 325.3,148.8 326.3,149.4 327.3,149.8 328.3,150.2 329.3,150.5 330.3,150.7 331.3,150.9 332.3,151.0 333.3,151.2 334.3,151.2 335.3,151.3 336.3,151.4 337.3,151.4 338.3,151.4 339.3,151.5 340.3,151.5 341.3,151.5 342.3,151.5 343.3,151.5 344.3,151.5 345.3,151.5 346.3,151.5 347.3,151.5 348.3,151.5 349.3,151.5 350.3,151.5 351.3,151.5 352.3,151.5 353.3,151.5 354.3,151.5 355.3,151.5 356.3,151.5 357.3,151.5 358.3,151.5 359.3,151.5 360.3,151.5 361.3,151.5 362.3,151.5 363.3,151.5 364.3,151.5 365.3,151.5 366.3,151.5 367.3,151.5 368.3,151.5 369.3,151.5 370.3,151.5 371.3,151.5 372.3,151.5 373.3,151.5 374.3,151.5 375.3,151.5 376.3,151.5 377.3,151.5" fill="none" stroke="#3552d0" stroke-width="1.8" stroke-linejoin="round" />
<polyline points="212.3,151.5 213.3,151.5 214.3,151.5 215.3,151.5 216.3,151.5 217.3,151.5 218.3,151.5 219.3,151.5 220.3,151.5 221.3,151.5 222.3,151.5 223.3,151.5 224.3,151.5 225.3,151.5 226.3,151.5 227.3,151.5 228.3,151.5 229.3,151.5 230.3,151.5 231.3,151.5 232.3,151.5 233.3,151.5 234.3,151.5 235.3,151.5 236.3,151.5 237.3,151.5 238.3,151.5 239.3,151.5 240.3,151.5 241.3,151.5 242.3,151.5 243.3,151.5 244.3,151.5 245.3,151.5 246.3,151.5 247.3,151.5 248.3,151.5 249.3,151.5 250.3,151.5 251.3,151.5 252.3,151.5 253.3,151.5 254.3,151.5 255.3,151.5 256.3,151.5 257.3,151.4 258.3,151.4 259.3,151.3 260.3,151.3 261.3,151.2 262.3,151.1 263.3,150.9 264.3,150.7 265.3,150.4 266.3,150.1 267.3,149.7 268.3,149.3 269.3,148.8 270.3,148.2 271.3,147.6 272.3,147.0 273.3,146.3 274.3,145.7 275.3,145.1 276.3,144.5 277.3,144.0 278.3,143.6 279.3,143.3 280.3,143.2 281.3,143.2 282.3,143.4 283.3,143.7 284.3,144.1 285.3,144.6 286.3,145.2 287.3,145.8 288.3,146.5 289.3,147.1 290.3,147.8 291.3,148.4 292.3,148.9 293.3,149.4 294.3,149.8 295.3,150.2 296.3,150.5 297.3,150.7 298.3,150.9 299.3,151.1 300.3,151.2 301.3,151.3 302.3,151.4 303.3,151.4 304.3,151.4 305.3,151.5 306.3,151.5 307.3,151.5 308.3,151.5 309.3,151.5 310.3,151.5 311.3,151.5 312.3,151.5 313.3,151.5 314.3,151.5 315.3,151.5 316.3,151.5 317.3,151.5 318.3,151.5 319.3,151.5 320.3,151.5 321.3,151.5 322.3,151.5 323.3,151.5 324.3,151.5 325.3,151.5 326.3,151.5 327.3,151.5 328.3,151.5 329.3,151.5 330.3,151.5 331.3,151.5 332.3,151.5 333.3,151.5 334.3,151.5 335.3,151.5 336.3,151.5 337.3,151.5 338.3,151.5 339.3,151.5 340.3,151.5 341.3,151.5 342.3,151.5 343.3,151.5 344.3,151.5 345.3,151.5 346.3,151.5 347.3,151.5 348.3,151.5 349.3,151.5 350.3,151.5 351.3,151.5 352.3,151.5 353.3,151.5 354.3,151.5 355.3,151.5 356.3,151.5 357.3,151.5 358.3,151.5 359.3,151.5 360.3,151.5 361.3,151.5 362.3,151.5 363.3,151.5 364.3,151.5 365.3,151.5 366.3,151.5 367.3,151.5 368.3,151.5 369.3,151.5 370.3,151.5 371.3,151.5 372.3,151.5 373.3,151.5 374.3,151.5 375.3,151.5 376.3,151.5 377.3,151.5" fill="none" stroke="#5cf046" stroke-width="2.0" stroke-linejoin="round" />
<line x1="278.8" y1="34" x2="278.8" y2="158.2" stroke="#78ee68" stroke-width="1.5" stroke-dasharray="5.5 4.5" stroke-dashoffset="6.00"/>
<line x1="300.3" y1="29.8" x2="300.3" y2="158.2" stroke="#4f6ecc" stroke-width="1.5" stroke-dasharray="5.5 4.5" stroke-dashoffset="0.00"/>
<line x1="325.2" y1="7.5" x2="325.2" y2="158.2" stroke="#b84a9e" stroke-width="1.5" stroke-dasharray="5.5 4.5" stroke-dashoffset="9.00"/>
<rect x="212.3" y="5.3" width="164.7" height="152.89999999999998" fill="none" stroke="#2c3033" stroke-width="1.5"/>
<line x1="212.3" y1="56.2" x2="377.0" y2="56.2" stroke="#2c3033" stroke-width="1.6"/>
<line x1="212.3" y1="107.4" x2="377.0" y2="107.4" stroke="#2c3033" stroke-width="1.6"/>
<text x="212.5" y="167.0" font-size="7.2" fill="#000" stroke="#000" stroke-width="0.32" letter-spacing="0.1" text-anchor="middle" font-weight="bold" text-rendering="geometricPrecision" >538</text>
<line x1="212.5" y1="158.2" x2="212.5" y2="155.7" stroke="#2c3033" stroke-width="1.0"/>
<text x="239.5" y="167.0" font-size="7.2" fill="#000" stroke="#000" stroke-width="0.32" letter-spacing="0.1" text-anchor="middle" font-weight="bold" text-rendering="geometricPrecision" >536</text>
<line x1="239.5" y1="158.2" x2="239.5" y2="155.7" stroke="#2c3033" stroke-width="1.0"/>
<text x="266.5" y="167.0" font-size="7.2" fill="#000" stroke="#000" stroke-width="0.32" letter-spacing="0.1" text-anchor="middle" font-weight="bold" text-rendering="geometricPrecision" >534</text>
<line x1="266.5" y1="158.2" x2="266.5" y2="155.7" stroke="#2c3033" stroke-width="1.0"/>
<text x="294.0" y="167.0" font-size="7.2" fill="#000" stroke="#000" stroke-width="0.32" letter-spacing="0.1" text-anchor="middle" font-weight="bold" text-rendering="geometricPrecision" >532</text>
<line x1="294.0" y1="158.2" x2="294.0" y2="155.7" stroke="#2c3033" stroke-width="1.0"/>
<text x="322.3" y="167.0" font-size="7.2" fill="#000" stroke="#000" stroke-width="0.32" letter-spacing="0.1" text-anchor="middle" font-weight="bold" text-rendering="geometricPrecision" >530</text>
<line x1="322.3" y1="158.2" x2="322.3" y2="155.7" stroke="#2c3033" stroke-width="1.0"/>
<text x="349.7" y="167.0" font-size="7.2" fill="#000" stroke="#000" stroke-width="0.32" letter-spacing="0.1" text-anchor="middle" font-weight="bold" text-rendering="geometricPrecision" >528</text>
<line x1="349.7" y1="158.2" x2="349.7" y2="155.7" stroke="#2c3033" stroke-width="1.0"/>
<text x="377.5" y="167.0" font-size="7.2" fill="#000" stroke="#000" stroke-width="0.32" letter-spacing="0.1" text-anchor="middle" font-weight="bold" text-rendering="geometricPrecision" >526</text>
<line x1="377.5" y1="158.2" x2="377.5" y2="155.7" stroke="#2c3033" stroke-width="1.0"/>
<text x="190.9" y="11.3" font-size="12.0" fill="#000" stroke="#000" stroke-width="0.4" letter-spacing="0.1" text-anchor="start" font-weight="bold" text-rendering="geometricPrecision" >(b)</text>
<text x="214.8" y="13.8" font-size="7.0" fill="#000" stroke="#000" stroke-width="0.32" letter-spacing="0.1" text-anchor="start" font-weight="bold" text-rendering="geometricPrecision" >Fresh</text>
<text x="214.7" y="63.9" font-size="6.95" fill="#000" stroke="#000" stroke-width="0.32" letter-spacing="0.1" text-anchor="start" font-weight="bold" text-rendering="geometricPrecision" >Blank electrolyte</text>
<text x="213.5" y="116.0" font-size="6.8" fill="#000" stroke="#000" stroke-width="0.32" letter-spacing="0.1" text-anchor="start" font-weight="bold" text-rendering="geometricPrecision" >15 wt% PP<tspan font-size="6.9" dy="2.0">1,CN</tspan><tspan font-size="6.9" dy="-3.3">FSI</tspan></text>
<text x="359.8" y="13.4" font-size="7.6" fill="#000" stroke="#000" stroke-width="0.32" letter-spacing="0.1" text-anchor="start" font-weight="bold" text-rendering="geometricPrecision" >O1s</text>
<text x="330.2" y="13.5" font-size="7.0" fill="#d04c98" stroke="#d04c98" stroke-width="0.32" letter-spacing="0.1" text-anchor="start" font-weight="bold" text-rendering="geometricPrecision" >Metal-O</text>
<text x="271.7" y="26.5" font-size="6.8" fill="#5cf046" stroke="#5cf046" stroke-width="0.32" letter-spacing="0.1" text-anchor="start" font-weight="bold" text-rendering="geometricPrecision" >C-O</text>
<text x="295.0" y="23.0" font-size="6.8" fill="#3552d0" stroke="#3552d0" stroke-width="0.32" letter-spacing="0.1" text-anchor="start" font-weight="bold" text-rendering="geometricPrecision" >C=O</text>
<text x="294.3" y="176.3" font-size="7.7" fill="#000" stroke="#000" stroke-width="0.32" letter-spacing="0.1" text-anchor="middle" font-weight="bold" text-rendering="geometricPrecision" >Binding energy (eV)</text>
<text x="0" y="0" font-size="7.7" fill="#000" stroke="#000" stroke-width="0.32" letter-spacing="0.1" text-anchor="middle" font-weight="bold" text-rendering="geometricPrecision" transform="translate(200.4,81.7) rotate(-90)">Intensity (a.u.)</text>
<polyline points="21.2,229.2 22.2,229.2 23.2,229.2 24.2,229.2 25.2,229.2 26.2,229.2 27.2,229.2 28.2,229.2 29.2,229.2 30.2,229.2 31.2,229.2 32.2,229.2 33.2,229.2 34.2,229.2 35.2,229.2 36.2,229.2 37.2,229.2 38.2,229.2 39.2,229.2 40.2,229.2 41.2,229.2 42.2,229.2 43.2,229.2 44.2,229.2 45.2,229.2 46.2,229.2 47.2,229.2 48.2,229.2 49.2,229.2 50.2,229.2 51.2,229.2 52.2,229.2 53.2,229.2 54.2,229.2 55.2,229.2 56.2,229.2 57.2,229.2 58.2,229.2 59.2,229.2 60.2,229.2 61.2,229.2 62.2,229.2 63.2,229.2 64.2,229.2 65.2,229.2 66.2,229.2 67.2,229.2 68.2,229.2 69.2,229.2 70.2,229.2 71.2,229.2 72.2,229.2 73.2,229.2 74.2,229.2 75.2,229.2 76.2,229.2 77.2,229.2 78.2,229.2 79.2,229.2 80.2,229.2 81.2,229.2 82.2,229.2 83.2,229.2 84.2,229.2 85.2,229.2 86.2,229.2 87.2,229.2 88.2,229.2 89.2,229.2 90.2,229.2 91.2,229.2 92.2,229.2 93.2,229.2 94.2,229.2 95.2,229.2 96.2,229.2 97.2,229.2 98.2,229.2 99.2,229.2 100.2,229.2 101.2,229.2 102.2,229.2 103.2,229.2 104.2,229.2 105.2,229.2 106.2,229.2 107.2,229.2 108.2,229.2 109.2,229.2 110.2,229.2 111.2,229.2 112.2,229.2 113.2,229.2 114.2,229.2 115.2,229.2 116.2,229.2 117.2,229.2 118.2,229.2 119.2,229.2 120.2,229.2 121.2,229.2 122.2,229.2 123.2,229.2 124.2,229.2 125.2,229.2 126.2,229.2 127.2,229.2 128.2,229.2 129.2,229.2 130.2,229.2 131.2,229.2 132.2,229.2 133.2,229.2 134.2,229.2 135.2,229.2 136.2,229.2 137.2,229.2 138.2,229.2 139.2,229.2 140.2,229.2 141.2,229.2 142.2,229.2 143.2,229.2 144.2,229.2 145.2,229.2 146.2,229.2 147.2,229.2 148.2,229.2 149.2,229.2 150.2,229.2 151.2,229.2 152.2,229.2 153.2,229.2 154.2,229.2 155.2,229.2 156.2,229.2 157.2,229.2 158.2,229.2 159.2,229.2 160.2,229.2 161.2,229.2 162.2,229.2 163.2,229.2 164.2,229.2 165.2,229.2 166.2,229.2 167.2,229.2 168.2,229.2 169.2,229.2 170.2,229.2 171.2,229.2 172.2,229.2 173.2,229.2 174.2,229.2 175.2,229.2 176.2,229.2 177.2,229.2 178.2,229.2 179.2,229.2 180.2,229.2 181.2,229.2 182.2,229.2 183.2,229.2 184.2,229.2 185.2,229.2 186.2,229.2" fill="none" stroke="#9a9a9a" stroke-width="1.2" stroke-linejoin="round" />
<polyline points="21.2,228.3 22.2,228.3 23.2,228.3 24.2,228.3 25.2,228.3 26.2,228.3 27.2,228.3 28.2,228.3 29.2,228.3 30.2,228.3 31.2,228.3 32.2,228.3 33.2,228.3 34.2,228.3 35.2,228.3 36.2,228.3 37.2,228.3 38.2,228.3 39.2,228.3 40.2,228.3 41.2,228.3 42.2,228.3 43.2,228.3 44.2,228.3 45.2,228.3 46.2,228.3 47.2,228.3 48.2,228.3 49.2,228.3 50.2,228.3 51.2,228.3 52.2,228.3 53.2,228.3 54.2,228.3 55.2,228.3 56.2,228.3 57.2,228.2 58.2,228.2 59.2,228.2 60.2,228.1 61.2,228.0 62.2,227.9 63.2,227.8 64.2,227.6 65.2,227.4 66.2,227.1 67.2,226.8 68.2,226.3 69.2,225.8 70.2,225.1 71.2,224.3 72.2,223.4 73.2,222.3 74.2,221.0 75.2,219.6 76.2,218.0 77.2,216.2 78.2,214.3 79.2,212.3 80.2,210.2 81.2,208.1 82.2,205.9 83.2,203.7 84.2,201.7 85.2,199.8 86.2,198.1 87.2,196.7 88.2,195.5 89.2,194.7 90.2,194.3 91.2,194.2 92.2,194.5 93.2,195.2 94.2,196.2 95.2,197.5 96.2,199.1 97.2,200.9 98.2,202.9 99.2,205.0 100.2,207.2 101.2,209.4 102.2,211.5 103.2,213.6 104.2,215.5 105.2,217.3 106.2,219.0 107.2,220.5 108.2,221.8 109.2,223.0 110.2,224.0 111.2,224.8 112.2,225.5 113.2,226.1 114.2,226.6 115.2,227.0 116.2,227.3 117.2,227.6 118.2,227.8 119.2,227.9 120.2,228.0 121.2,228.1 122.2,228.2 123.2,228.2 124.2,228.2 125.2,228.2 126.2,228.3 127.2,228.3 128.2,228.3 129.2,228.3 130.2,228.3 131.2,228.3 132.2,228.3 133.2,228.3 134.2,228.3 135.2,228.3 136.2,228.3 137.2,228.3 138.2,228.3 139.2,228.3 140.2,228.3 141.2,228.3 142.2,228.3 143.2,228.3 144.2,228.3 145.2,228.3 146.2,228.3 147.2,228.3 148.2,228.3 149.2,228.3 150.2,228.3 151.2,228.3 152.2,228.3 153.2,228.3 154.2,228.3 155.2,228.3 156.2,228.3 157.2,228.3 158.2,228.3 159.2,228.3 160.2,228.3 161.2,228.3 162.2,228.3 163.2,228.3 164.2,228.3 165.2,228.3 166.2,228.3 167.2,228.3 168.2,228.3 169.2,228.3 170.2,228.3 171.2,228.3 172.2,228.3 173.2,228.3 174.2,228.3 175.2,228.3 176.2,228.3 177.2,228.3 178.2,228.3 179.2,228.3 180.2,228.3 181.2,228.3 182.2,228.3 183.2,228.3 184.2,228.3 185.2,228.3 186.2,228.3" fill="none" stroke="#a8146e" stroke-width="2.0" stroke-linejoin="round" />
<polyline points="21.2,228.3 22.2,228.3 23.2,228.3 24.2,228.3 25.2,228.3 26.2,228.3 27.2,228.3 28.2,228.3 29.2,228.3 30.2,228.3 31.2,228.3 32.2,228.3 33.2,228.3 34.2,228.3 35.2,228.3 36.2,228.3 37.2,228.3 38.2,228.3 39.2,228.3 40.2,228.3 41.2,228.3 42.2,228.3 43.2,228.3 44.2,228.3 45.2,228.3 46.2,228.3 47.2,228.3 48.2,228.3 49.2,228.3 50.2,228.3 51.2,228.3 52.2,228.3 53.2,228.3 54.2,228.3 55.2,228.3 56.2,228.3 57.2,228.2 58.2,228.2 59.2,228.2 60.2,228.1 61.2,228.0 62.2,227.9 63.2,227.8 64.2,227.6 65.2,227.4 66.2,227.1 67.2,226.8 68.2,226.3 69.2,225.8 70.2,225.1 71.2,224.3 72.2,223.4 73.2,222.3 74.2,221.0 75.2,219.6 76.2,218.0 77.2,216.2 78.2,214.3 79.2,212.3 80.2,210.2 81.2,208.1 82.2,205.9 83.2,203.7 84.2,201.7 85.2,199.8 86.2,198.1 87.2,196.7 88.2,195.5 89.2,194.7 90.2,194.3 91.2,194.2 92.2,194.5 93.2,195.2 94.2,196.2 95.2,197.5 96.2,199.1 97.2,200.9 98.2,202.9 99.2,205.0 100.2,207.2 101.2,209.4 102.2,211.5 103.2,213.6 104.2,215.5 105.2,217.3 106.2,219.0 107.2,220.5 108.2,221.8 109.2,223.0 110.2,224.0 111.2,224.8 112.2,225.5 113.2,226.1 114.2,226.6 115.2,227.0 116.2,227.3 117.2,227.6 118.2,227.8 119.2,227.9 120.2,228.0 121.2,228.1 122.2,228.2 123.2,228.2 124.2,228.2 125.2,228.2 126.2,228.3 127.2,228.3 128.2,228.3 129.2,228.3 130.2,228.3 131.2,228.3 132.2,228.3 133.2,228.3 134.2,228.3 135.2,228.3 136.2,228.3 137.2,228.3 138.2,228.3 139.2,228.3 140.2,228.3 141.2,228.3 142.2,228.3 143.2,228.3 144.2,228.3 145.2,228.3 146.2,228.3 147.2,228.3 148.2,228.3 149.2,228.3 150.2,228.3 151.2,228.3 152.2,228.3 153.2,228.3 154.2,228.3 155.2,228.3 156.2,228.3 157.2,228.3 158.2,228.3 159.2,228.3 160.2,228.3 161.2,228.3 162.2,228.3 163.2,228.3 164.2,228.3 165.2,228.3 166.2,228.3 167.2,228.3 168.2,228.3 169.2,228.3 170.2,228.3 171.2,228.3 172.2,228.3 173.2,228.3 174.2,228.3 175.2,228.3 176.2,228.3 177.2,228.3 178.2,228.3 179.2,228.3 180.2,228.3 181.2,228.3 182.2,228.3 183.2,228.3 184.2,228.3 185.2,228.3 186.2,228.3" fill="none" stroke="#5a0a36" stroke-width="1.0" stroke-linejoin="round" />
<polyline points="21.2,278.6 22.2,278.6 23.2,278.6 24.2,278.6 25.2,278.6 26.2,278.6 27.2,278.6 28.2,278.6 29.2,278.6 30.2,278.6 31.2,278.6 32.2,278.6 33.2,278.6 34.2,278.6 35.2,278.6 36.2,278.6 37.2,278.6 38.2,278.6 39.2,278.6 40.2,278.6 41.2,278.6 42.2,278.6 43.2,278.6 44.2,278.6 45.2,278.6 46.2,278.6 47.2,278.6 48.2,278.6 49.2,278.6 50.2,278.6 51.2,278.6 52.2,278.6 53.2,278.6 54.2,278.6 55.2,278.5 56.2,278.5 57.2,278.5 58.2,278.4 59.2,278.3 60.2,278.3 61.2,278.1 62.2,278.0 63.2,277.7 64.2,277.5 65.2,277.1 66.2,276.7 67.2,276.1 68.2,275.5 69.2,274.7 70.2,273.8 71.2,272.7 72.2,271.4 73.2,270.0 74.2,268.3 75.2,266.6 76.2,264.6 77.2,262.5 78.2,260.3 79.2,258.1 80.2,255.8 81.2,253.5 82.2,251.3 83.2,249.2 84.2,247.3 85.2,245.6 86.2,244.2 87.2,243.1 88.2,242.4 89.2,242.1 90.2,242.2 91.2,242.7 92.2,243.5 93.2,244.7 94.2,246.2 95.2,248.0 96.2,250.0 97.2,252.1 98.2,254.4 99.2,256.7 100.2,259.0 101.2,261.2 102.2,263.4 103.2,265.4 104.2,267.3 105.2,269.0 106.2,270.6 107.2,271.9 108.2,273.1 109.2,274.2 110.2,275.0 111.2,275.8 112.2,276.4 113.2,276.9 114.2,277.3 115.2,277.6 116.2,277.8 117.2,278.0 118.2,278.2 119.2,278.3 120.2,278.4 121.2,278.4 122.2,278.5 123.2,278.5 124.2,278.5 125.2,278.6 126.2,278.6 127.2,278.6 128.2,278.6 129.2,278.6 130.2,278.6 131.2,278.6 132.2,278.6 133.2,278.6 134.2,278.6 135.2,278.6 136.2,278.6 137.2,278.6 138.2,278.6 139.2,278.6 140.2,278.6 141.2,278.6 142.2,278.6 143.2,278.6 144.2,278.6 145.2,278.6 146.2,278.6 147.2,278.6 148.2,278.6 149.2,278.6 150.2,278.6 151.2,278.6 152.2,278.6 153.2,278.6 154.2,278.6 155.2,278.6 156.2,278.6 157.2,278.6 158.2,278.6 159.2,278.6 160.2,278.6 161.2,278.6 162.2,278.6 163.2,278.6 164.2,278.6 165.2,278.6 166.2,278.6 167.2,278.6 168.2,278.6 169.2,278.6 170.2,278.6 171.2,278.6 172.2,278.6 173.2,278.6 174.2,278.6 175.2,278.6 176.2,278.6 177.2,278.6 178.2,278.6 179.2,278.6 180.2,278.6 181.2,278.6 182.2,278.6 183.2,278.6 184.2,278.6 185.2,278.6 186.2,278.6" fill="none" stroke="#9a9a9a" stroke-width="1.0" stroke-linejoin="round" />
<polyline points="21.2,278.6 22.2,278.6 23.2,278.6 24.2,278.6 25.2,278.6 26.2,278.6 27.2,278.6 28.2,278.6 29.2,278.6 30.2,278.6 31.2,278.6 32.2,278.6 33.2,278.6 34.2,278.6 35.2,278.6 36.2,278.6 37.2,278.6 38.2,278.6 39.2,278.6 40.2,278.6 41.2,278.6 42.2,278.6 43.2,278.6 44.2,278.6 45.2,278.6 46.2,278.6 47.2,278.6 48.2,278.6 49.2,278.6 50.2,278.6 51.2,278.6 52.2,278.6 53.2,278.6 54.2,278.6 55.2,278.6 56.2,278.6 57.2,278.5 58.2,278.5 59.2,278.5 60.2,278.4 61.2,278.4 62.2,278.3 63.2,278.2 64.2,278.0 65.2,277.8 66.2,277.5 67.2,277.2 68.2,276.7 69.2,276.2 70.2,275.5 71.2,274.7 72.2,273.8 73.2,272.7 74.2,271.4 75.2,269.9 76.2,268.2 77.2,266.4 78.2,264.4 79.2,262.2 80.2,259.9 81.2,257.6 82.2,255.2 83.2,252.8 84.2,250.5 85.2,248.4 86.2,246.4 87.2,244.7 88.2,243.2 89.2,242.1 90.2,241.4 91.2,241.1 92.2,241.1 93.2,241.6 94.2,242.4 95.2,243.5 96.2,245.0 97.2,246.7 98.2,248.6 99.2,250.6 100.2,252.7 101.2,254.9 102.2,257.1 103.2,259.2 104.2,261.2 105.2,263.1 106.2,264.9 107.2,266.5 108.2,267.9 109.2,269.2 110.2,270.4 111.2,271.4 112.2,272.2 113.2,272.9 114.2,273.4 115.2,273.8 116.2,274.0 117.2,274.1 118.2,274.1 119.2,273.9 120.2,273.5 121.2,273.0 122.2,272.4 123.2,271.6 124.2,270.7 125.2,269.7 126.2,268.6 127.2,267.4 128.2,266.2 129.2,265.0 130.2,263.8 131.2,262.7 132.2,261.7 133.2,260.9 134.2,260.2 135.2,259.7 136.2,259.4 137.2,259.4 138.2,259.6 139.2,260.0 140.2,260.6 141.2,261.5 142.2,262.5 143.2,263.6 144.2,264.8 145.2,266.0 146.2,267.3 147.2,268.6 148.2,269.9 149.2,271.1 150.2,272.2 151.2,273.2 152.2,274.1 153.2,274.9 154.2,275.6 155.2,276.2 156.2,276.7 157.2,277.1 158.2,277.4 159.2,277.7 160.2,277.9 161.2,278.1 162.2,278.2 163.2,278.3 164.2,278.4 165.2,278.5 166.2,278.5 167.2,278.5 168.2,278.6 169.2,278.6 170.2,278.6 171.2,278.6 172.2,278.6 173.2,278.6 174.2,278.6 175.2,278.6 176.2,278.6 177.2,278.6 178.2,278.6 179.2,278.6 180.2,278.6 181.2,278.6 182.2,278.6 183.2,278.6 184.2,278.6 185.2,278.6 186.2,278.6" fill="none" stroke="#141414" stroke-width="1.7" stroke-linejoin="round" />
<polyline points="21.2,278.6 22.2,278.6 23.2,278.6 24.2,278.6 25.2,278.6 26.2,278.6 27.2,278.6 28.2,278.6 29.2,278.6 30.2,278.6 31.2,278.6 32.2,278.6 33.2,278.6 34.2,278.6 35.2,278.6 36.2,278.6 37.2,278.6 38.2,278.6 39.2,278.6 40.2,278.6 41.2,278.6 42.2,278.6 43.2,278.6 44.2,278.6 45.2,278.6 46.2,278.6 47.2,278.6 48.2,278.6 49.2,278.6 50.2,278.6 51.2,278.6 52.2,278.6 53.2,278.6 54.2,278.6 55.2,278.6 56.2,278.6 57.2,278.5 58.2,278.5 59.2,278.5 60.2,278.4 61.2,278.4 62.2,278.3 63.2,278.2 64.2,278.0 65.2,277.8 66.2,277.5 67.2,277.2 68.2,276.7 69.2,276.2 70.2,275.5 71.2,274.7 72.2,273.8 73.2,272.7 74.2,271.4 75.2,269.9 76.2,268.3 77.2,266.4 78.2,264.4 79.2,262.3 80.2,260.1 81.2,257.8 82.2,255.4 83.2,253.1 84.2,250.9 85.2,248.8 86.2,246.9 87.2,245.3 88.2,244.0 89.2,243.0 90.2,242.5 91.2,242.3 92.2,242.5 93.2,243.2 94.2,244.2 95.2,245.6 96.2,247.3 97.2,249.2 98.2,251.3 99.2,253.6 100.2,255.9 101.2,258.2 102.2,260.5 103.2,262.7 104.2,264.9 105.2,266.8 106.2,268.6 107.2,270.2 108.2,271.7 109.2,272.9 110.2,274.0 111.2,274.9 112.2,275.7 113.2,276.3 114.2,276.8 115.2,277.2 116.2,277.6 117.2,277.8 118.2,278.0 119.2,278.2 120.2,278.3 121.2,278.4 122.2,278.4 123.2,278.5 124.2,278.5 125.2,278.5 126.2,278.6 127.2,278.6 128.2,278.6 129.2,278.6 130.2,278.6 131.2,278.6 132.2,278.6 133.2,278.6 134.2,278.6 135.2,278.6 136.2,278.6 137.2,278.6 138.2,278.6 139.2,278.6 140.2,278.6 141.2,278.6 142.2,278.6 143.2,278.6 144.2,278.6 145.2,278.6 146.2,278.6 147.2,278.6 148.2,278.6 149.2,278.6 150.2,278.6 151.2,278.6 152.2,278.6 153.2,278.6 154.2,278.6 155.2,278.6 156.2,278.6 157.2,278.6 158.2,278.6 159.2,278.6 160.2,278.6 161.2,278.6 162.2,278.6 163.2,278.6 164.2,278.6 165.2,278.6 166.2,278.6 167.2,278.6 168.2,278.6 169.2,278.6 170.2,278.6 171.2,278.6 172.2,278.6 173.2,278.6 174.2,278.6 175.2,278.6 176.2,278.6 177.2,278.6 178.2,278.6 179.2,278.6 180.2,278.6 181.2,278.6 182.2,278.6 183.2,278.6 184.2,278.6 185.2,278.6 186.2,278.6" fill="none" stroke="#a8146e" stroke-width="1.5" stroke-linejoin="round" />
<polyline points="21.2,278.6 22.2,278.6 23.2,278.6 24.2,278.6 25.2,278.6 26.2,278.6 27.2,278.6 28.2,278.6 29.2,278.6 30.2,278.6 31.2,278.6 32.2,278.6 33.2,278.6 34.2,278.6 35.2,278.6 36.2,278.6 37.2,278.6 38.2,278.6 39.2,278.6 40.2,278.6 41.2,278.6 42.2,278.6 43.2,278.6 44.2,278.6 45.2,278.6 46.2,278.6 47.2,278.6 48.2,278.6 49.2,278.6 50.2,278.6 51.2,278.6 52.2,278.6 53.2,278.6 54.2,278.6 55.2,278.6 56.2,278.6 57.2,278.6 58.2,278.6 59.2,278.6 60.2,278.6 61.2,278.6 62.2,278.6 63.2,278.6 64.2,278.6 65.2,278.6 66.2,278.6 67.2,278.6 68.2,278.6 69.2,278.6 70.2,278.6 71.2,278.6 72.2,278.6 73.2,278.6 74.2,278.6 75.2,278.6 76.2,278.6 77.2,278.6 78.2,278.6 79.2,278.6 80.2,278.6 81.2,278.6 82.2,278.6 83.2,278.6 84.2,278.6 85.2,278.6 86.2,278.6 87.2,278.6 88.2,278.6 89.2,278.6 90.2,278.6 91.2,278.6 92.2,278.6 93.2,278.6 94.2,278.6 95.2,278.6 96.2,278.6 97.2,278.6 98.2,278.6 99.2,278.6 100.2,278.6 101.2,278.6 102.2,278.6 103.2,278.6 104.2,278.6 105.2,278.6 106.2,278.5 107.2,278.5 108.2,278.5 109.2,278.4 110.2,278.4 111.2,278.3 112.2,278.2 113.2,278.0 114.2,277.8 115.2,277.6 116.2,277.2 117.2,276.9 118.2,276.4 119.2,275.8 120.2,275.2 121.2,274.4 122.2,273.5 123.2,272.6 124.2,271.5 125.2,270.4 126.2,269.1 127.2,267.9 128.2,266.6 129.2,265.3 130.2,264.0 131.2,262.9 132.2,261.8 133.2,261.0 134.2,260.2 135.2,259.7 136.2,259.5 137.2,259.4 138.2,259.6 139.2,260.0 140.2,260.6 141.2,261.5 142.2,262.5 143.2,263.6 144.2,264.8 145.2,266.1 146.2,267.3 147.2,268.6 148.2,269.9 149.2,271.1 150.2,272.2 151.2,273.2 152.2,274.1 153.2,274.9 154.2,275.6 155.2,276.2 156.2,276.7 157.2,277.1 158.2,277.4 159.2,277.7 160.2,277.9 161.2,278.1 162.2,278.2 163.2,278.3 164.2,278.4 165.2,278.5 166.2,278.5 167.2,278.5 168.2,278.6 169.2,278.6 170.2,278.6 171.2,278.6 172.2,278.6 173.2,278.6 174.2,278.6 175.2,278.6 176.2,278.6 177.2,278.6 178.2,278.6 179.2,278.6 180.2,278.6 181.2,278.6 182.2,278.6 183.2,278.6 184.2,278.6 185.2,278.6 186.2,278.6" fill="none" stroke="#3552d0" stroke-width="1.8" stroke-linejoin="round" />
<polyline points="21.2,278.6 22.2,278.6 23.2,278.6 24.2,278.6 25.2,278.6 26.2,278.6 27.2,278.6 28.2,278.6 29.2,278.6 30.2,278.6 31.2,278.6 32.2,278.6 33.2,278.6 34.2,278.6 35.2,278.6 36.2,278.6 37.2,278.6 38.2,278.6 39.2,278.6 40.2,278.6 41.2,278.6 42.2,278.6 43.2,278.6 44.2,278.6 45.2,278.6 46.2,278.6 47.2,278.6 48.2,278.6 49.2,278.6 50.2,278.6 51.2,278.6 52.2,278.6 53.2,278.6 54.2,278.6 55.2,278.6 56.2,278.6 57.2,278.6 58.2,278.6 59.2,278.6 60.2,278.6 61.2,278.6 62.2,278.6 63.2,278.6 64.2,278.6 65.2,278.6 66.2,278.6 67.2,278.6 68.2,278.6 69.2,278.6 70.2,278.6 71.2,278.6 72.2,278.6 73.2,278.6 74.2,278.6 75.2,278.6 76.2,278.6 77.2,278.5 78.2,278.5 79.2,278.5 80.2,278.5 81.2,278.4 82.2,278.4 83.2,278.3 84.2,278.3 85.2,278.2 86.2,278.1 87.2,278.0 88.2,277.8 89.2,277.7 90.2,277.5 91.2,277.4 92.2,277.2 93.2,277.0 94.2,276.8 95.2,276.5 96.2,276.3 97.2,276.1 98.2,275.9 99.2,275.7 100.2,275.5 101.2,275.3 102.2,275.2 103.2,275.0 104.2,275.0 105.2,274.9 106.2,274.9 107.2,274.9 108.2,275.0 109.2,275.1 110.2,275.2 111.2,275.4 112.2,275.5 113.2,275.7 114.2,276.0 115.2,276.2 116.2,276.4 117.2,276.6 118.2,276.8 119.2,277.1 120.2,277.2 121.2,277.4 122.2,277.6 123.2,277.8 124.2,277.9 125.2,278.0 126.2,278.1 127.2,278.2 128.2,278.3 129.2,278.3 130.2,278.4 131.2,278.4 132.2,278.5 133.2,278.5 134.2,278.5 135.2,278.5 136.2,278.6 137.2,278.6 138.2,278.6 139.2,278.6 140.2,278.6 141.2,278.6 142.2,278.6 143.2,278.6 144.2,278.6 145.2,278.6 146.2,278.6 147.2,278.6 148.2,278.6 149.2,278.6 150.2,278.6 151.2,278.6 152.2,278.6 153.2,278.6 154.2,278.6 155.2,278.6 156.2,278.6 157.2,278.6 158.2,278.6 159.2,278.6 160.2,278.6 161.2,278.6 162.2,278.6 163.2,278.6 164.2,278.6 165.2,278.6 166.2,278.6 167.2,278.6 168.2,278.6 169.2,278.6 170.2,278.6 171.2,278.6 172.2,278.6 173.2,278.6 174.2,278.6 175.2,278.6 176.2,278.6 177.2,278.6 178.2,278.6 179.2,278.6 180.2,278.6 181.2,278.6 182.2,278.6 183.2,278.6 184.2,278.6 185.2,278.6 186.2,278.6" fill="none" stroke="#5cf046" stroke-width="2.0" stroke-linejoin="round" />
<polyline points="21.2,323.2 23.2,323.2 25.2,323.2 27.2,323.2 29.2,323.2 31.2,323.2 33.2,323.2 35.2,323.2 37.2,323.2 39.2,323.2 41.2,323.2 43.2,323.2 45.2,323.2 47.2,323.1 49.2,323.1 51.2,323.0 53.2,322.9 55.2,321.8 57.2,322.9 59.2,319.9 61.2,321.6 63.2,319.2 65.2,318.1 67.2,319.2 69.2,315.3 71.2,312.9 73.2,311.3 75.2,308.9 77.2,304.4 79.2,301.9 81.2,296.9 83.2,294.8 85.2,292.3 87.2,289.4 89.2,290.9 91.2,290.7 93.2,291.2 95.2,292.4 97.2,294.0 99.2,295.8 101.2,297.7 103.2,299.8 105.2,302.1 107.2,304.8 109.2,307.7 111.2,310.6 113.2,313.1 115.2,314.9 117.2,316.2 119.2,317.0 121.2,317.6 123.2,317.9 125.2,318.1 127.2,318.0 129.2,318.1 131.2,318.4 133.2,319.3 135.2,320.3 137.2,321.3 139.2,322.0 141.2,322.5 143.2,322.8 145.2,322.9 147.2,323.0 149.2,323.1 151.2,323.1 153.2,323.2 155.2,323.2 157.2,323.2 159.2,323.2 161.2,323.2 163.2,323.2 165.2,323.2 167.2,323.2 169.2,323.2 171.2,323.2 173.2,323.2 175.2,323.2 177.2,323.2 179.2,323.2 181.2,323.2 183.2,323.2 185.2,323.2" fill="none" stroke="#9a9a9a" stroke-width="1.0" stroke-linejoin="round" />
<polyline points="21.2,324.7 22.2,324.7 23.2,324.7 24.2,324.7 25.2,324.7 26.2,324.7 27.2,324.7 28.2,324.7 29.2,324.7 30.2,324.7 31.2,324.7 32.2,324.7 33.2,324.7 34.2,324.7 35.2,324.7 36.2,324.7 37.2,324.7 38.2,324.7 39.2,324.7 40.2,324.7 41.2,324.7 42.2,324.7 43.2,324.7 44.2,324.7 45.2,324.7 46.2,324.7 47.2,324.7 48.2,324.7 49.2,324.7 50.2,324.7 51.2,324.7 52.2,324.7 53.2,324.7 54.2,324.7 55.2,324.7 56.2,324.7 57.2,324.7 58.2,324.7 59.2,324.7 60.2,324.7 61.2,324.7 62.2,324.7 63.2,324.7 64.2,324.7 65.2,324.7 66.2,324.7 67.2,324.7 68.2,324.7 69.2,324.7 70.2,324.7 71.2,324.7 72.2,324.7 73.2,324.7 74.2,324.7 75.2,324.7 76.2,324.7 77.2,324.7 78.2,324.7 79.2,324.7 80.2,324.7 81.2,324.7 82.2,324.7 83.2,324.7 84.2,324.7 85.2,324.7 86.2,324.7 87.2,324.7 88.2,324.7 89.2,324.7 90.2,324.7 91.2,324.7 92.2,324.7 93.2,324.7 94.2,324.7 95.2,324.7 96.2,324.7 97.2,324.7 98.2,324.7 99.2,324.7 100.2,324.7 101.2,324.7 102.2,324.7 103.2,324.7 104.2,324.7 105.2,324.7 106.2,324.7 107.2,324.7 108.2,324.7 109.2,324.7 110.2,324.7 111.2,324.7 112.2,324.7 113.2,324.7 114.2,324.7 115.2,324.7 116.2,324.7 117.2,324.7 118.2,324.7 119.2,324.7 120.2,324.7 121.2,324.7 122.2,324.7 123.2,324.7 124.2,324.7 125.2,324.7 126.2,324.7 127.2,324.7 128.2,324.7 129.2,324.7 130.2,324.7 131.2,324.7 132.2,324.7 133.2,324.7 134.2,324.7 135.2,324.7 136.2,324.7 137.2,324.7 138.2,324.7 139.2,324.7 140.2,324.7 141.2,324.7 142.2,324.7 143.2,324.7 144.2,324.7 145.2,324.7 146.2,324.7 147.2,324.7 148.2,324.7 149.2,324.7 150.2,324.7 151.2,324.7 152.2,324.7 153.2,324.7 154.2,324.7 155.2,324.7 156.2,324.7 157.2,324.7 158.2,324.7 159.2,324.7 160.2,324.7 161.2,324.7 162.2,324.7 163.2,324.7 164.2,324.7 165.2,324.7 166.2,324.7 167.2,324.7 168.2,324.7 169.2,324.7 170.2,324.7 171.2,324.7 172.2,324.7 173.2,324.7 174.2,324.7 175.2,324.7 176.2,324.7 177.2,324.7 178.2,324.7 179.2,324.7 180.2,324.7 181.2,324.7 182.2,324.7 183.2,324.7 184.2,324.7 185.2,324.7 186.2,324.7" fill="none" stroke="#3552d0" stroke-width="1.4" stroke-linejoin="round" />
<polyline points="21.2,323.2 22.2,323.2 23.2,323.2 24.2,323.2 25.2,323.2 26.2,323.2 27.2,323.2 28.2,323.2 29.2,323.2 30.2,323.2 31.2,323.2 32.2,323.2 33.2,323.2 34.2,323.2 35.2,323.2 36.2,323.2 37.2,323.2 38.2,323.2 39.2,323.2 40.2,323.2 41.2,323.2 42.2,323.2 43.2,323.2 44.2,323.2 45.2,323.2 46.2,323.2 47.2,323.1 48.2,323.1 49.2,323.1 50.2,323.1 51.2,323.0 52.2,323.0 53.2,322.9 54.2,322.8 55.2,322.7 56.2,322.6 57.2,322.4 58.2,322.2 59.2,322.0 60.2,321.7 61.2,321.4 62.2,321.0 63.2,320.5 64.2,320.0 65.2,319.4 66.2,318.7 67.2,318.0 68.2,317.1 69.2,316.1 70.2,315.1 71.2,314.0 72.2,312.7 73.2,311.4 74.2,310.0 75.2,308.5 76.2,307.0 77.2,305.4 78.2,303.8 79.2,302.2 80.2,300.6 81.2,299.1 82.2,297.6 83.2,296.2 84.2,294.9 85.2,293.8 86.2,292.8 87.2,292.0 88.2,291.3 89.2,290.9 90.2,290.7 91.2,290.7 92.2,290.8 93.2,291.2 94.2,291.7 95.2,292.4 96.2,293.2 97.2,294.0 98.2,294.9 99.2,295.8 100.2,296.8 101.2,297.7 102.2,298.7 103.2,299.8 104.2,300.9 105.2,302.1 106.2,303.4 107.2,304.8 108.2,306.2 109.2,307.7 110.2,309.2 111.2,310.6 112.2,311.9 113.2,313.1 114.2,314.1 115.2,314.9 116.2,315.6 117.2,316.2 118.2,316.6 119.2,317.0 120.2,317.3 121.2,317.6 122.2,317.8 123.2,317.9 124.2,318.0 125.2,318.1 126.2,318.1 127.2,318.0 128.2,318.0 129.2,318.1 130.2,318.2 131.2,318.4 132.2,318.8 133.2,319.3 134.2,319.8 135.2,320.3 136.2,320.8 137.2,321.3 138.2,321.7 139.2,322.0 140.2,322.3 141.2,322.5 142.2,322.6 143.2,322.8 144.2,322.8 145.2,322.9 146.2,323.0 147.2,323.0 148.2,323.1 149.2,323.1 150.2,323.1 151.2,323.1 152.2,323.2 153.2,323.2 154.2,323.2 155.2,323.2 156.2,323.2 157.2,323.2 158.2,323.2 159.2,323.2 160.2,323.2 161.2,323.2 162.2,323.2 163.2,323.2 164.2,323.2 165.2,323.2 166.2,323.2 167.2,323.2 168.2,323.2 169.2,323.2 170.2,323.2 171.2,323.2 172.2,323.2 173.2,323.2 174.2,323.2 175.2,323.2 176.2,323.2 177.2,323.2 178.2,323.2 179.2,323.2 180.2,323.2 181.2,323.2 182.2,323.2 183.2,323.2 184.2,323.2 185.2,323.2 186.2,323.2" fill="none" stroke="#141414" stroke-width="1.7" stroke-linejoin="round" />
<polyline points="21.2,323.2 22.2,323.2 23.2,323.2 24.2,323.2 25.2,323.2 26.2,323.2 27.2,323.2 28.2,323.2 29.2,323.2 30.2,323.2 31.2,323.2 32.2,323.2 33.2,323.2 34.2,323.2 35.2,323.2 36.2,323.2 37.2,323.2 38.2,323.2 39.2,323.2 40.2,323.2 41.2,323.2 42.2,323.2 43.2,323.2 44.2,323.2 45.2,323.2 46.2,323.2 47.2,323.1 48.2,323.1 49.2,323.1 50.2,323.1 51.2,323.0 52.2,323.0 53.2,322.9 54.2,322.8 55.2,322.7 56.2,322.6 57.2,322.4 58.2,322.2 59.2,322.0 60.2,321.7 61.2,321.4 62.2,321.0 63.2,320.5 64.2,320.0 65.2,319.4 66.2,318.7 67.2,318.0 68.2,317.1 69.2,316.1 70.2,315.1 71.2,314.0 72.2,312.7 73.2,311.4 74.2,310.0 75.2,308.5 76.2,307.0 77.2,305.4 78.2,303.8 79.2,302.2 80.2,300.6 81.2,299.1 82.2,297.6 83.2,296.2 84.2,294.9 85.2,293.8 86.2,292.8 87.2,292.0 88.2,291.4 89.2,290.9 90.2,290.7 91.2,290.7 92.2,290.9 93.2,291.4 94.2,292.0 95.2,292.8 96.2,293.8 97.2,294.9 98.2,296.2 99.2,297.6 100.2,299.1 101.2,300.6 102.2,302.2 103.2,303.8 104.2,305.4 105.2,307.0 106.2,308.5 107.2,310.0 108.2,311.4 109.2,312.7 110.2,314.0 111.2,315.1 112.2,316.1 113.2,317.1 114.2,318.0 115.2,318.7 116.2,319.4 117.2,320.0 118.2,320.5 119.2,321.0 120.2,321.4 121.2,321.7 122.2,322.0 123.2,322.2 124.2,322.4 125.2,322.6 126.2,322.7 127.2,322.8 128.2,322.9 129.2,323.0 130.2,323.0 131.2,323.1 132.2,323.1 133.2,323.1 134.2,323.1 135.2,323.2 136.2,323.2 137.2,323.2 138.2,323.2 139.2,323.2 140.2,323.2 141.2,323.2 142.2,323.2 143.2,323.2 144.2,323.2 145.2,323.2 146.2,323.2 147.2,323.2 148.2,323.2 149.2,323.2 150.2,323.2 151.2,323.2 152.2,323.2 153.2,323.2 154.2,323.2 155.2,323.2 156.2,323.2 157.2,323.2 158.2,323.2 159.2,323.2 160.2,323.2 161.2,323.2 162.2,323.2 163.2,323.2 164.2,323.2 165.2,323.2 166.2,323.2 167.2,323.2 168.2,323.2 169.2,323.2 170.2,323.2 171.2,323.2 172.2,323.2 173.2,323.2 174.2,323.2 175.2,323.2 176.2,323.2 177.2,323.2 178.2,323.2 179.2,323.2 180.2,323.2 181.2,323.2 182.2,323.2 183.2,323.2 184.2,323.2 185.2,323.2 186.2,323.2" fill="none" stroke="#a8146e" stroke-width="1.6" stroke-linejoin="round" />
<polyline points="21.2,324.7 22.2,324.7 23.2,324.7 24.2,324.7 25.2,324.7 26.2,324.7 27.2,324.7 28.2,324.7 29.2,324.7 30.2,324.7 31.2,324.7 32.2,324.7 33.2,324.7 34.2,324.7 35.2,324.7 36.2,324.7 37.2,324.7 38.2,324.7 39.2,324.7 40.2,324.7 41.2,324.7 42.2,324.7 43.2,324.7 44.2,324.7 45.2,324.7 46.2,324.7 47.2,324.7 48.2,324.7 49.2,324.7 50.2,324.7 51.2,324.7 52.2,324.7 53.2,324.7 54.2,324.7 55.2,324.7 56.2,324.7 57.2,324.7 58.2,324.7 59.2,324.7 60.2,324.7 61.2,324.7 62.2,324.7 63.2,324.7 64.2,324.7 65.2,324.7 66.2,324.7 67.2,324.7 68.2,324.7 69.2,324.7 70.2,324.7 71.2,324.7 72.2,324.7 73.2,324.7 74.2,324.7 75.2,324.7 76.2,324.7 77.2,324.7 78.2,324.7 79.2,324.7 80.2,324.7 81.2,324.7 82.2,324.7 83.2,324.7 84.2,324.7 85.2,324.7 86.2,324.7 87.2,324.7 88.2,324.7 89.2,324.7 90.2,324.7 91.2,324.7 92.2,324.7 93.2,324.7 94.2,324.7 95.2,324.7 96.2,324.7 97.2,324.7 98.2,324.7 99.2,324.7 100.2,324.7 101.2,324.7 102.2,324.7 103.2,324.7 104.2,324.7 105.2,324.7 106.2,324.7 107.2,324.7 108.2,324.7 109.2,324.7 110.2,324.7 111.2,324.7 112.2,324.7 113.2,324.7 114.2,324.7 115.2,324.7 116.2,324.6 117.2,324.6 118.2,324.5 119.2,324.3 120.2,324.1 121.2,323.8 122.2,323.3 123.2,322.8 124.2,322.1 125.2,321.3 126.2,320.5 127.2,319.6 128.2,318.9 129.2,318.2 130.2,317.8 131.2,317.7 132.2,317.8 133.2,318.2 134.2,318.9 135.2,319.6 136.2,320.5 137.2,321.3 138.2,322.1 139.2,322.8 140.2,323.3 141.2,323.8 142.2,324.1 143.2,324.3 144.2,324.5 145.2,324.6 146.2,324.6 147.2,324.7 148.2,324.7 149.2,324.7 150.2,324.7 151.2,324.7 152.2,324.7 153.2,324.7 154.2,324.7 155.2,324.7 156.2,324.7 157.2,324.7 158.2,324.7 159.2,324.7 160.2,324.7 161.2,324.7 162.2,324.7 163.2,324.7 164.2,324.7 165.2,324.7 166.2,324.7 167.2,324.7 168.2,324.7 169.2,324.7 170.2,324.7 171.2,324.7 172.2,324.7 173.2,324.7 174.2,324.7 175.2,324.7 176.2,324.7 177.2,324.7 178.2,324.7 179.2,324.7 180.2,324.7 181.2,324.7 182.2,324.7 183.2,324.7 184.2,324.7 185.2,324.7 186.2,324.7" fill="none" stroke="#3552d0" stroke-width="1.8" stroke-linejoin="round" />
<polyline points="21.2,324.4 22.2,324.4 23.2,324.4 24.2,324.4 25.2,324.4 26.2,324.4 27.2,324.4 28.2,324.4 29.2,324.4 30.2,324.4 31.2,324.4 32.2,324.4 33.2,324.4 34.2,324.4 35.2,324.4 36.2,324.4 37.2,324.4 38.2,324.4 39.2,324.4 40.2,324.4 41.2,324.4 42.2,324.4 43.2,324.4 44.2,324.4 45.2,324.4 46.2,324.4 47.2,324.4 48.2,324.4 49.2,324.4 50.2,324.4 51.2,324.4 52.2,324.4 53.2,324.4 54.2,324.4 55.2,324.4 56.2,324.4 57.2,324.4 58.2,324.4 59.2,324.4 60.2,324.4 61.2,324.4 62.2,324.4 63.2,324.4 64.2,324.4 65.2,324.4 66.2,324.4 67.2,324.4 68.2,324.4 69.2,324.4 70.2,324.4 71.2,324.4 72.2,324.4 73.2,324.4 74.2,324.4 75.2,324.4 76.2,324.4 77.2,324.4 78.2,324.4 79.2,324.4 80.2,324.4 81.2,324.4 82.2,324.4 83.2,324.4 84.2,324.4 85.2,324.4 86.2,324.4 87.2,324.4 88.2,324.4 89.2,324.4 90.2,324.4 91.2,324.3 92.2,324.3 93.2,324.2 94.2,324.0 95.2,323.8 96.2,323.5 97.2,323.0 98.2,322.4 99.2,321.6 100.2,320.7 101.2,319.8 102.2,318.8 103.2,318.0 104.2,317.3 105.2,316.9 106.2,316.8 107.2,317.0 108.2,317.6 109.2,318.3 110.2,319.2 111.2,320.2 112.2,321.1 113.2,321.9 114.2,322.6 115.2,323.2 116.2,323.6 117.2,323.9 118.2,324.1 119.2,324.2 120.2,324.3 121.2,324.3 122.2,324.4 123.2,324.4 124.2,324.4 125.2,324.4 126.2,324.4 127.2,324.4 128.2,324.4 129.2,324.4 130.2,324.4 131.2,324.4 132.2,324.4 133.2,324.4 134.2,324.4 135.2,324.4 136.2,324.4 137.2,324.4 138.2,324.4 139.2,324.4 140.2,324.4 141.2,324.4 142.2,324.4 143.2,324.4 144.2,324.4 145.2,324.4 146.2,324.4 147.2,324.4 148.2,324.4 149.2,324.4 150.2,324.4 151.2,324.4 152.2,324.4 153.2,324.4 154.2,324.4 155.2,324.4 156.2,324.4 157.2,324.4 158.2,324.4 159.2,324.4 160.2,324.4 161.2,324.4 162.2,324.4 163.2,324.4 164.2,324.4 165.2,324.4 166.2,324.4 167.2,324.4 168.2,324.4 169.2,324.4 170.2,324.4 171.2,324.4 172.2,324.4 173.2,324.4 174.2,324.4 175.2,324.4 176.2,324.4 177.2,324.4 178.2,324.4 179.2,324.4 180.2,324.4 181.2,324.4 182.2,324.4 183.2,324.4 184.2,324.4 185.2,324.4 186.2,324.4" fill="none" stroke="#5cf046" stroke-width="2.0" stroke-linejoin="round" />
<line x1="91.3" y1="190" x2="91.3" y2="331.6" stroke="#a0307e" stroke-width="1.6" stroke-dasharray="5.5 4.5" stroke-dashoffset="9.10"/>
<line x1="106.4" y1="214.5" x2="106.4" y2="331.6" stroke="#78ee68" stroke-width="1.5" stroke-dasharray="5.5 4.5" stroke-dashoffset="4.50"/>
<line x1="131.4" y1="225.5" x2="131.4" y2="331.6" stroke="#4f6ecc" stroke-width="1.4" stroke-dasharray="5.5 4.5" stroke-dashoffset="0.00"/>
<line x1="136.3" y1="225.5" x2="136.3" y2="331.6" stroke="#4f6ecc" stroke-width="1.4" stroke-dasharray="5.5 4.5" stroke-dashoffset="0.00"/>
<line x1="131.6" y1="225.5" x2="136.2" y2="225.5" stroke="#3552d0" stroke-width="1.4"/>
<rect x="21.2" y="188.0" width="164.60000000000002" height="143.60000000000002" fill="none" stroke="#2c3033" stroke-width="1.5"/>
<line x1="21.2" y1="235.2" x2="185.8" y2="235.2" stroke="#2c3033" stroke-width="1.6"/>
<line x1="21.2" y1="283.6" x2="185.8" y2="283.6" stroke="#2c3033" stroke-width="1.6"/>
<text x="34.8" y="340.5" font-size="7.2" fill="#000" stroke="#000" stroke-width="0.32" letter-spacing="0.1" text-anchor="middle" font-weight="bold" text-rendering="geometricPrecision" >692</text>
<line x1="34.8" y1="331.6" x2="34.8" y2="329.1" stroke="#2c3033" stroke-width="1.0"/>
<text x="62.4" y="340.5" font-size="7.2" fill="#000" stroke="#000" stroke-width="0.32" letter-spacing="0.1" text-anchor="middle" font-weight="bold" text-rendering="geometricPrecision" >690</text>
<line x1="62.4" y1="331.6" x2="62.4" y2="329.1" stroke="#2c3033" stroke-width="1.0"/>
<text x="89.9" y="340.5" font-size="7.2" fill="#000" stroke="#000" stroke-width="0.32" letter-spacing="0.1" text-anchor="middle" font-weight="bold" text-rendering="geometricPrecision" >688</text>
<line x1="89.9" y1="331.6" x2="89.9" y2="329.1" stroke="#2c3033" stroke-width="1.0"/>
<text x="117.4" y="340.5" font-size="7.2" fill="#000" stroke="#000" stroke-width="0.32" letter-spacing="0.1" text-anchor="middle" font-weight="bold" text-rendering="geometricPrecision" >686</text>
<line x1="117.4" y1="331.6" x2="117.4" y2="329.1" stroke="#2c3033" stroke-width="1.0"/>
<text x="144.9" y="340.5" font-size="7.2" fill="#000" stroke="#000" stroke-width="0.32" letter-spacing="0.1" text-anchor="middle" font-weight="bold" text-rendering="geometricPrecision" >684</text>
<line x1="144.9" y1="331.6" x2="144.9" y2="329.1" stroke="#2c3033" stroke-width="1.0"/>
<text x="172.3" y="340.5" font-size="7.2" fill="#000" stroke="#000" stroke-width="0.32" letter-spacing="0.1" text-anchor="middle" font-weight="bold" text-rendering="geometricPrecision" >682</text>
<line x1="172.3" y1="331.6" x2="172.3" y2="329.1" stroke="#2c3033" stroke-width="1.0"/>
<text x="1.8" y="192.8" font-size="12.0" fill="#000" stroke="#000" stroke-width="0.4" letter-spacing="0.1" text-anchor="start" font-weight="bold" text-rendering="geometricPrecision" >(c)</text>
<text x="22.0" y="195.0" font-size="7.0" fill="#000" stroke="#000" stroke-width="0.32" letter-spacing="0.1" text-anchor="start" font-weight="bold" text-rendering="geometricPrecision" >Fresh</text>
<text x="22.3" y="243.5" font-size="6.95" fill="#000" stroke="#000" stroke-width="0.32" letter-spacing="0.1" text-anchor="start" font-weight="bold" text-rendering="geometricPrecision" >Blank electrolyte</text>
<text x="22.3" y="292.8" font-size="6.8" fill="#000" stroke="#000" stroke-width="0.32" letter-spacing="0.1" text-anchor="start" font-weight="bold" text-rendering="geometricPrecision" >15 wt% PP<tspan font-size="6.9" dy="2.0">1,CN</tspan><tspan font-size="6.9" dy="-3.3">FSI</tspan></text>
<text x="168.8" y="197.0" font-size="6.8" fill="#000" stroke="#000" stroke-width="0.32" letter-spacing="0.1" text-anchor="start" font-weight="bold" text-rendering="geometricPrecision" >F1s</text>
<text x="67.6" y="195.5" font-size="7.0" fill="#a8146e" stroke="#a8146e" stroke-width="0.32" letter-spacing="0.1" text-anchor="start" font-weight="bold" text-rendering="geometricPrecision" >PVDF</text>
<text x="100.2" y="201.0" font-size="6.9" fill="#7aee68" stroke="#7aee68" stroke-width="0.4" letter-spacing="0.05" text-anchor="start" font-weight="bold" text-rendering="geometricPrecision" >Li<tspan font-size="6.8" dy="1.6">x</tspan><tspan dy="-1.6">PO</tspan><tspan font-size="6.8" dy="1.6">y</tspan><tspan dy="-1.6">F</tspan><tspan font-size="6.8" dy="1.6">z</tspan></text>
<text x="130.2" y="217.2" font-size="6.8" fill="#4a66c8" stroke="#4a66c8" stroke-width="0.32" letter-spacing="0.1" text-anchor="start" font-weight="bold" text-rendering="geometricPrecision" >LiF</text>
<text x="103.4" y="352.4" font-size="7.7" fill="#000" stroke="#000" stroke-width="0.32" letter-spacing="0.1" text-anchor="middle" font-weight="bold" text-rendering="geometricPrecision" >Binding energy (eV)</text>
<text x="0" y="0" font-size="7.7" fill="#000" stroke="#000" stroke-width="0.32" letter-spacing="0.1" text-anchor="middle" font-weight="bold" text-rendering="geometricPrecision" transform="translate(8.6,257.0) rotate(-90)">Intensity (a.u.)</text>
<polyline points="222.5,300.0 223.8,310.8 225.0,299.7 226.2,309.4 227.5,300.0 228.8,305.7 230.0,308.2 231.2,319.5 232.5,311.3 233.8,308.7 235.0,303.8 236.2,317.0 237.5,311.3 238.8,311.6 240.0,298.1 241.2,311.6 242.5,299.0 243.8,309.4 245.0,313.3 246.2,309.2 247.5,302.5 248.8,311.3 250.0,303.6 251.2,306.2 252.5,315.8 253.8,307.7 255.0,306.0 256.2,307.3 257.5,306.9 258.8,310.9 260.0,305.3 261.2,310.3 262.5,304.5 263.8,317.3 265.0,303.3 266.2,306.8 267.5,304.3 268.8,313.0 270.0,304.7 271.2,310.3 272.5,307.4 273.8,306.9 275.0,302.3 276.2,310.1 277.5,307.7 278.8,310.5 280.0,297.4 281.2,297.1 282.5,296.6 283.8,289.2 285.0,279.8 286.2,273.3 287.5,260.3 288.8,256.2 290.0,252.8 291.2,250.0 292.5,250.8 293.8,259.1 295.0,269.2 296.2,277.3 297.5,285.5 298.8,284.3 300.0,287.7 301.2,287.9 302.5,282.6 303.8,272.3 305.0,270.5 306.2,263.3 307.5,248.8 308.8,232.2 310.0,220.5 311.2,210.8 312.5,208.1 313.8,202.6 315.0,205.7 316.2,217.7 317.5,226.3 318.8,243.2 320.0,250.8 321.2,262.7 322.5,274.9 323.8,284.3 325.0,289.0 326.2,293.1 327.5,292.4 328.8,297.2 330.0,299.3 331.2,300.9 332.5,304.2 333.8,310.3 335.0,305.5 336.2,308.7 337.5,297.2 338.8,309.1 340.0,307.1 341.2,301.5 342.5,306.7 343.8,313.5 345.0,305.5 346.2,312.2 347.5,299.6 348.8,305.4 350.0,303.3 351.2,308.2 352.5,306.3 353.8,305.6 355.0,304.9 356.2,307.2 357.5,304.8 358.8,306.5 360.0,299.1 361.2,307.0 362.5,302.0 363.8,308.2 365.0,306.6 366.2,305.8 367.5,300.3 368.8,307.6" fill="none" stroke="#8c9898" stroke-width="1.2" stroke-linejoin="round" />
<polyline points="222.0,310.5 223.0,310.5 224.0,310.5 225.0,310.5 226.0,310.5 227.0,310.5 228.0,310.5 229.0,310.5 230.0,310.5 231.0,310.5 232.0,310.5 233.0,310.5 234.0,310.5 235.0,310.5 236.0,310.5 237.0,310.5 238.0,310.5 239.0,310.5 240.0,310.5 241.0,310.5 242.0,310.5 243.0,310.5 244.0,310.5 245.0,310.5 246.0,310.5 247.0,310.5 248.0,310.5 249.0,310.5 250.0,310.5 251.0,310.5 252.0,310.5 253.0,310.5 254.0,310.5 255.0,310.5 256.0,310.5 257.0,310.5 258.0,310.5 259.0,310.5 260.0,310.5 261.0,310.5 262.0,310.5 263.0,310.5 264.0,310.5 265.0,310.5 266.0,310.5 267.0,310.5 268.0,310.5 269.0,310.5 270.0,310.5 271.0,310.5 272.0,310.5 273.0,310.5 274.0,310.5 275.0,310.5 276.0,310.5 277.0,310.5 278.0,310.5 279.0,310.5 280.0,310.5 281.0,310.5 282.0,310.5 283.0,310.5 284.0,310.5 285.0,310.5 286.0,310.5 287.0,310.5 288.0,310.5 289.0,310.5 290.0,310.5 291.0,310.5 292.0,310.5 293.0,310.5 294.0,310.5 295.0,310.5 296.0,310.5 297.0,310.5 298.0,310.5 299.0,310.5 300.0,310.5 301.0,310.5 302.0,310.5 303.0,310.5 304.0,310.5 305.0,310.5 306.0,310.5 307.0,310.5 308.0,310.5 309.0,310.5 310.0,310.5 311.0,310.5 312.0,310.5 313.0,310.5 314.0,310.5 315.0,310.5 316.0,310.5 317.0,310.5 318.0,310.5 319.0,310.5 320.0,310.5 321.0,310.5 322.0,310.5 323.0,310.5 324.0,310.5 325.0,310.5 326.0,310.5 327.0,310.5 328.0,310.5 329.0,310.5 330.0,310.5 331.0,310.5 332.0,310.5 333.0,310.5 334.0,310.5 335.0,310.5 336.0,310.5 337.0,310.5 338.0,310.5 339.0,310.5 340.0,310.5 341.0,310.5 342.0,310.5 343.0,310.5 344.0,310.5 345.0,310.5 346.0,310.5 347.0,310.5 348.0,310.5 349.0,310.5 350.0,310.5 351.0,310.5 352.0,310.5 353.0,310.5 354.0,310.5 355.0,310.5 356.0,310.5 357.0,310.5 358.0,310.5 359.0,310.5 360.0,310.5 361.0,310.5 362.0,310.5 363.0,310.5 364.0,310.5 365.0,310.5 366.0,310.5 367.0,310.5 368.0,310.5 369.0,310.5" fill="none" stroke="#b0b0b0" stroke-width="1.0" stroke-linejoin="round" />
<polyline points="222.0,310.2 223.0,310.2 224.0,310.2 225.0,310.1 226.0,310.1 227.0,310.1 228.0,310.1 229.0,310.1 230.0,310.1 231.0,310.1 232.0,310.1 233.0,310.1 234.0,310.1 235.0,310.0 236.0,310.0 237.0,310.0 238.0,310.0 239.0,310.0 240.0,310.0 241.0,310.0 242.0,309.9 243.0,309.9 244.0,309.9 245.0,309.9 246.0,309.9 247.0,309.9 248.0,309.8 249.0,309.8 250.0,309.8 251.0,309.8 252.0,309.7 253.0,309.7 254.0,309.7 255.0,309.6 256.0,309.6 257.0,309.6 258.0,309.5 259.0,309.5 260.0,309.5 261.0,309.4 262.0,309.4 263.0,309.3 264.0,309.3 265.0,309.2 266.0,309.2 267.0,309.1 268.0,309.0 269.0,308.9 270.0,308.8 271.0,308.7 272.0,308.6 273.0,308.5 274.0,308.3 275.0,308.1 276.0,307.7 277.0,307.2 278.0,306.5 279.0,305.3 280.0,303.5 281.0,301.0 282.0,297.5 283.0,292.9 284.0,287.3 285.0,280.6 286.0,273.4 287.0,266.2 288.0,259.6 289.0,254.6 290.0,251.6 291.0,251.3 292.0,253.5 293.0,257.8 294.0,263.5 295.0,269.8 296.0,275.9 297.0,281.2 298.0,285.2 299.0,287.8 300.0,288.7 301.0,288.0 302.0,285.7 303.0,281.9 304.0,276.6 305.0,269.8 306.0,261.9 307.0,252.7 308.0,242.8 309.0,232.4 310.0,222.3 311.0,213.3 312.0,206.4 313.0,202.7 314.0,202.7 315.0,206.5 316.0,213.4 317.0,222.5 318.0,232.7 319.0,243.1 320.0,253.2 321.0,262.5 322.0,270.7 323.0,277.8 324.0,283.8 325.0,288.7 326.0,292.7 327.0,295.8 328.0,298.2 329.0,300.1 330.0,301.6 331.0,302.7 332.0,303.6 333.0,304.3 334.0,304.9 335.0,305.4 336.0,305.8 337.0,306.2 338.0,306.5 339.0,306.8 340.0,307.1 341.0,307.3 342.0,307.5 343.0,307.7 344.0,307.9 345.0,308.0 346.0,308.2 347.0,308.3 348.0,308.4 349.0,308.5 350.0,308.6 351.0,308.7 352.0,308.8 353.0,308.9 354.0,309.0 355.0,309.0 356.0,309.1 357.0,309.2 358.0,309.2 359.0,309.3 360.0,309.3 361.0,309.4 362.0,309.4 363.0,309.5 364.0,309.5 365.0,309.5 366.0,309.6 367.0,309.6 368.0,309.6 369.0,309.7" fill="none" stroke="#141414" stroke-width="1.7" stroke-linejoin="round" />
<polyline points="222.0,310.5 223.0,310.5 224.0,310.5 225.0,310.5 226.0,310.5 227.0,310.5 228.0,310.5 229.0,310.5 230.0,310.5 231.0,310.5 232.0,310.5 233.0,310.5 234.0,310.4 235.0,310.4 236.0,310.4 237.0,310.4 238.0,310.4 239.0,310.4 240.0,310.4 241.0,310.4 242.0,310.4 243.0,310.4 244.0,310.4 245.0,310.4 246.0,310.4 247.0,310.4 248.0,310.4 249.0,310.4 250.0,310.4 251.0,310.4 252.0,310.4 253.0,310.4 254.0,310.4 255.0,310.4 256.0,310.4 257.0,310.4 258.0,310.4 259.0,310.3 260.0,310.3 261.0,310.3 262.0,310.3 263.0,310.3 264.0,310.3 265.0,310.3 266.0,310.2 267.0,310.2 268.0,310.2 269.0,310.2 270.0,310.1 271.0,310.1 272.0,310.1 273.0,310.0 274.0,309.9 275.0,309.7 276.0,309.5 277.0,309.1 278.0,308.4 279.0,307.3 280.0,305.7 281.0,303.3 282.0,299.9 283.0,295.5 284.0,290.0 285.0,283.6 286.0,276.6 287.0,269.6 288.0,263.3 289.0,258.5 290.0,255.8 291.0,255.8 292.0,258.5 293.0,263.3 294.0,269.6 295.0,276.6 296.0,283.6 297.0,290.0 298.0,295.5 299.0,299.9 300.0,303.3 301.0,305.7 302.0,307.3 303.0,308.4 304.0,309.1 305.0,309.5 306.0,309.7 307.0,309.9 308.0,310.0 309.0,310.1 310.0,310.1 311.0,310.1 312.0,310.2 313.0,310.2 314.0,310.2 315.0,310.2 316.0,310.3 317.0,310.3 318.0,310.3 319.0,310.3 320.0,310.3 321.0,310.3 322.0,310.3 323.0,310.4 324.0,310.4 325.0,310.4 326.0,310.4 327.0,310.4 328.0,310.4 329.0,310.4 330.0,310.4 331.0,310.4 332.0,310.4 333.0,310.4 334.0,310.4 335.0,310.4 336.0,310.4 337.0,310.4 338.0,310.4 339.0,310.4 340.0,310.4 341.0,310.4 342.0,310.4 343.0,310.4 344.0,310.4 345.0,310.4 346.0,310.4 347.0,310.4 348.0,310.5 349.0,310.5 350.0,310.5 351.0,310.5 352.0,310.5 353.0,310.5 354.0,310.5 355.0,310.5 356.0,310.5 357.0,310.5 358.0,310.5 359.0,310.5 360.0,310.5 361.0,310.5 362.0,310.5 363.0,310.5 364.0,310.5 365.0,310.5 366.0,310.5 367.0,310.5 368.0,310.5 369.0,310.5" fill="none" stroke="#3552d0" stroke-width="1.8" stroke-linejoin="round" />
<polyline points="222.0,310.2 223.0,310.2 224.0,310.2 225.0,310.2 226.0,310.2 227.0,310.2 228.0,310.2 229.0,310.1 230.0,310.1 231.0,310.1 232.0,310.1 233.0,310.1 234.0,310.1 235.0,310.1 236.0,310.1 237.0,310.1 238.0,310.1 239.0,310.1 240.0,310.0 241.0,310.0 242.0,310.0 243.0,310.0 244.0,310.0 245.0,310.0 246.0,310.0 247.0,309.9 248.0,309.9 249.0,309.9 250.0,309.9 251.0,309.9 252.0,309.8 253.0,309.8 254.0,309.8 255.0,309.8 256.0,309.7 257.0,309.7 258.0,309.7 259.0,309.7 260.0,309.6 261.0,309.6 262.0,309.6 263.0,309.5 264.0,309.5 265.0,309.5 266.0,309.4 267.0,309.4 268.0,309.3 269.0,309.3 270.0,309.2 271.0,309.1 272.0,309.1 273.0,309.0 274.0,308.9 275.0,308.9 276.0,308.8 277.0,308.7 278.0,308.6 279.0,308.5 280.0,308.3 281.0,308.2 282.0,308.1 283.0,307.9 284.0,307.8 285.0,307.6 286.0,307.4 287.0,307.1 288.0,306.9 289.0,306.6 290.0,306.3 291.0,305.9 292.0,305.5 293.0,305.0 294.0,304.4 295.0,303.7 296.0,302.8 297.0,301.7 298.0,300.2 299.0,298.3 300.0,295.9 301.0,292.8 302.0,288.9 303.0,284.0 304.0,278.0 305.0,270.9 306.0,262.6 307.0,253.3 308.0,243.3 309.0,232.9 310.0,222.7 311.0,213.7 312.0,206.8 313.0,203.0 314.0,203.0 315.0,206.8 316.0,213.7 317.0,222.7 318.0,232.9 319.0,243.3 320.0,253.3 321.0,262.6 322.0,270.9 323.0,278.0 324.0,284.0 325.0,288.9 326.0,292.8 327.0,295.9 328.0,298.3 329.0,300.2 330.0,301.7 331.0,302.8 332.0,303.7 333.0,304.4 334.0,305.0 335.0,305.5 336.0,305.9 337.0,306.3 338.0,306.6 339.0,306.9 340.0,307.1 341.0,307.4 342.0,307.6 343.0,307.8 344.0,307.9 345.0,308.1 346.0,308.2 347.0,308.3 348.0,308.5 349.0,308.6 350.0,308.7 351.0,308.8 352.0,308.9 353.0,308.9 354.0,309.0 355.0,309.1 356.0,309.1 357.0,309.2 358.0,309.3 359.0,309.3 360.0,309.4 361.0,309.4 362.0,309.5 363.0,309.5 364.0,309.5 365.0,309.6 366.0,309.6 367.0,309.6 368.0,309.7 369.0,309.7" fill="none" stroke="#a8146e" stroke-width="1.8" stroke-linejoin="round" />
<line x1="290.4" y1="245" x2="290.4" y2="332.3" stroke="#4f6ecc" stroke-width="1.4" stroke-dasharray="5.5 4.5" stroke-dashoffset="9.00"/>
<line x1="313.4" y1="196" x2="313.4" y2="332.3" stroke="#b84a9e" stroke-width="1.4" stroke-dasharray="5.5 4.5" stroke-dashoffset="3.30"/>
<rect x="215.2" y="188.3" width="162.60000000000002" height="144.0" fill="none" stroke="#2c3033" stroke-width="1.5"/>
<text x="215.3" y="341.1" font-size="7.2" fill="#000" stroke="#000" stroke-width="0.32" letter-spacing="0.1" text-anchor="middle" font-weight="bold" text-rendering="geometricPrecision" >412</text>
<line x1="215.3" y1="332.3" x2="215.3" y2="329.8" stroke="#2c3033" stroke-width="1.0"/>
<text x="247.9" y="341.1" font-size="7.2" fill="#000" stroke="#000" stroke-width="0.32" letter-spacing="0.1" text-anchor="middle" font-weight="bold" text-rendering="geometricPrecision" >408</text>
<line x1="247.9" y1="332.3" x2="247.9" y2="329.8" stroke="#2c3033" stroke-width="1.0"/>
<text x="281.0" y="341.1" font-size="7.2" fill="#000" stroke="#000" stroke-width="0.32" letter-spacing="0.1" text-anchor="middle" font-weight="bold" text-rendering="geometricPrecision" >404</text>
<line x1="281.0" y1="332.3" x2="281.0" y2="329.8" stroke="#2c3033" stroke-width="1.0"/>
<text x="313.3" y="341.1" font-size="7.2" fill="#000" stroke="#000" stroke-width="0.32" letter-spacing="0.1" text-anchor="middle" font-weight="bold" text-rendering="geometricPrecision" >400</text>
<line x1="313.3" y1="332.3" x2="313.3" y2="329.8" stroke="#2c3033" stroke-width="1.0"/>
<text x="344.9" y="341.1" font-size="7.2" fill="#000" stroke="#000" stroke-width="0.32" letter-spacing="0.1" text-anchor="middle" font-weight="bold" text-rendering="geometricPrecision" >396</text>
<line x1="344.9" y1="332.3" x2="344.9" y2="329.8" stroke="#2c3033" stroke-width="1.0"/>
<text x="377.2" y="341.1" font-size="7.2" fill="#000" stroke="#000" stroke-width="0.32" letter-spacing="0.1" text-anchor="middle" font-weight="bold" text-rendering="geometricPrecision" >392</text>
<line x1="377.2" y1="332.3" x2="377.2" y2="329.8" stroke="#2c3033" stroke-width="1.0"/>
<text x="195.2" y="192.8" font-size="12.0" fill="#000" stroke="#000" stroke-width="0.4" letter-spacing="0.1" text-anchor="start" font-weight="bold" text-rendering="geometricPrecision" >(d)</text>
<text x="217.4" y="196.6" font-size="7.2" fill="#000" stroke="#000" stroke-width="0.32" letter-spacing="0.1" text-anchor="start" font-weight="bold" text-rendering="geometricPrecision" >15 wt% PP<tspan font-size="7.1" dy="2.0">1,CN</tspan><tspan font-size="7.1" dy="-3.3">FSI</tspan></text>
<text x="362.4" y="197.5" font-size="7.0" fill="#000" stroke="#000" stroke-width="0.32" letter-spacing="0.1" text-anchor="start" font-weight="bold" text-rendering="geometricPrecision" >N1s</text>
<text x="305.6" y="196.5" font-size="6.8" fill="#d04c98" stroke="#d04c98" stroke-width="0.32" letter-spacing="0.1" text-anchor="start" font-weight="bold" text-rendering="geometricPrecision" >N</text>
<text x="285.0" y="238.0" font-size="6.8" fill="#3552d0" stroke="#3552d0" stroke-width="0.32" letter-spacing="0.1" text-anchor="start" font-weight="bold" text-rendering="geometricPrecision" >FSI</text>
<text x="300.5" y="354.3" font-size="8.5" fill="#000" stroke="#000" stroke-width="0.32" letter-spacing="0.1" text-anchor="middle" font-weight="bold" text-rendering="geometricPrecision" >Binding energy (eV)</text>
<text x="0" y="0" font-size="8.6" fill="#000" stroke="#000" stroke-width="0.32" letter-spacing="0.1" text-anchor="middle" font-weight="bold" text-rendering="geometricPrecision" transform="translate(203.9,257.7) rotate(-90)">Intensity (a.u.)</text>
</svg>
</body></html>
